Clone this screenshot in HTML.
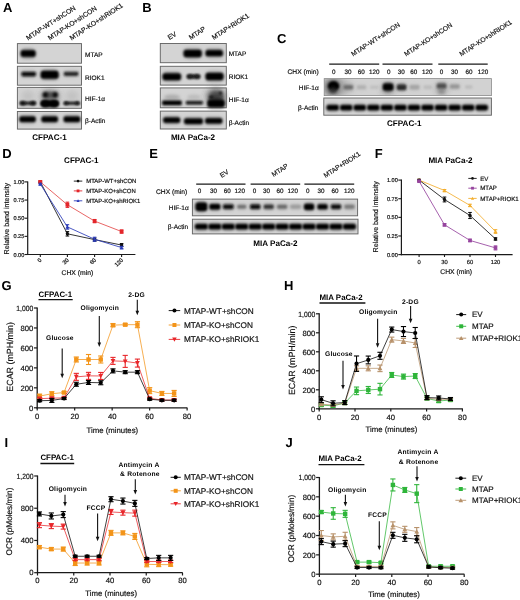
<!DOCTYPE html><html><head><meta charset="utf-8"><title>Figure</title><style>html,body{margin:0;padding:0;background:#fff;}svg{display:block;}text{font-family:'Liberation Sans', Arial, Helvetica, sans-serif;text-rendering:geometricPrecision;}</style></head><body>
<svg width="520" height="600" viewBox="0 0 520 600">
<defs><filter id="b1" x="-50%" y="-100%" width="200%" height="300%"><feGaussianBlur stdDeviation="0.85"/></filter><filter id="b2" x="-50%" y="-100%" width="200%" height="300%"><feGaussianBlur stdDeviation="1.8"/></filter><filter id="b3" x="-50%" y="-100%" width="200%" height="300%"><feGaussianBlur stdDeviation="3"/></filter><filter id="b05" x="-50%" y="-100%" width="200%" height="300%"><feGaussianBlur stdDeviation="0.5"/></filter></defs>
<rect width="520" height="600" fill="#fff"/>
<text x="3.00" y="12.00" font-size="13" text-anchor="start" font-weight="bold" fill="#000">A</text>
<text x="142.30" y="12.00" font-size="13" text-anchor="start" font-weight="bold" fill="#000">B</text>
<text x="277.00" y="42.70" font-size="13" text-anchor="start" font-weight="bold" fill="#000">C</text>
<text x="2.30" y="158.20" font-size="13" text-anchor="start" font-weight="bold" fill="#000">D</text>
<text x="149.20" y="158.40" font-size="13" text-anchor="start" font-weight="bold" fill="#000">E</text>
<text x="374.80" y="158.40" font-size="13" text-anchor="start" font-weight="bold" fill="#000">F</text>
<text x="1.50" y="290.40" font-size="13" text-anchor="start" font-weight="bold" fill="#000">G</text>
<text x="284.00" y="290.40" font-size="13" text-anchor="start" font-weight="bold" fill="#000">H</text>
<text x="4.60" y="447.30" font-size="13" text-anchor="start" font-weight="bold" fill="#000">I</text>
<text x="285.50" y="447.30" font-size="13" text-anchor="start" font-weight="bold" fill="#000">J</text>
<text transform="translate(28.00,40.50) rotate(-33)" font-size="6.8" text-anchor="start" stroke="#111" stroke-width="0.18" fill="#111">MTAP-WT+shCON</text>
<text transform="translate(49.80,40.50) rotate(-33)" font-size="6.8" text-anchor="start" stroke="#111" stroke-width="0.18" fill="#111">MTAP-KO+shCON</text>
<text transform="translate(71.40,40.50) rotate(-33)" font-size="6.8" text-anchor="start" stroke="#111" stroke-width="0.18" fill="#111">MTAP-KO+shRIOK1</text>
<rect x="17.40" y="43.60" width="64.10" height="19.60" fill="#d4d4d4" stroke="#666" stroke-width="0.95"/>
<rect x="17.40" y="66.30" width="64.10" height="18.90" fill="#d4d4d4" stroke="#666" stroke-width="0.95"/>
<rect x="17.40" y="87.40" width="64.10" height="20.90" fill="#d4d4d4" stroke="#666" stroke-width="0.95"/>
<rect x="17.40" y="111.50" width="64.10" height="17.60" fill="#d4d4d4" stroke="#666" stroke-width="0.95"/>
<rect x="19.80" y="48.35" width="16.70" height="10.50" rx="5.25" fill="#555" opacity="0.5" filter="url(#b2)"/>
<rect x="20.80" y="50.35" width="14.70" height="6.50" rx="2.08" fill="#000" opacity="1.0" filter="url(#b1)"/>
<rect x="20.60" y="70.50" width="16.20" height="7.20" rx="3.60" fill="#777" opacity="0.5" filter="url(#b2)"/>
<rect x="21.60" y="72.00" width="14.20" height="4.20" rx="1.34" fill="#111" opacity="1.0" filter="url(#b1)"/>
<rect x="39.90" y="69.60" width="19.50" height="10.40" rx="5.20" fill="#444" opacity="0.6" filter="url(#b2)"/>
<rect x="40.90" y="71.10" width="17.50" height="7.40" rx="2.37" fill="#000" opacity="1.0" filter="url(#b1)"/>
<rect x="63.00" y="70.60" width="16.20" height="6.60" rx="3.30" fill="#888" opacity="0.5" filter="url(#b2)"/>
<rect x="64.00" y="72.10" width="14.20" height="3.60" rx="1.15" fill="#222" opacity="1.0" filter="url(#b1)"/>
<ellipse cx="28.00" cy="96.00" rx="7.00" ry="5.00" fill="#aaa" opacity="0.5" filter="url(#b3)"/>
<ellipse cx="72.00" cy="96.00" rx="7.00" ry="5.00" fill="#aaa" opacity="0.5" filter="url(#b3)"/>
<ellipse cx="50.00" cy="96.50" rx="9.00" ry="6.00" fill="#555" opacity="0.7" filter="url(#b3)"/>
<ellipse cx="50.00" cy="95.00" rx="6.50" ry="3.00" fill="#444" opacity="0.8" filter="url(#b2)"/>
<ellipse cx="45.30" cy="94.80" rx="2.60" ry="2.80" fill="#000" opacity="1.0" filter="url(#b2)"/>
<ellipse cx="55.30" cy="94.80" rx="2.60" ry="2.80" fill="#000" opacity="1.0" filter="url(#b2)"/>
<rect x="19.50" y="100.90" width="16.80" height="4.60" rx="2.30" fill="#777" opacity="0.5" filter="url(#b2)"/>
<rect x="20.50" y="101.90" width="14.80" height="2.60" rx="0.83" fill="#111" opacity="1.0" filter="url(#b1)"/>
<ellipse cx="22.73" cy="103.20" rx="2.94" ry="2.10" fill="#111" opacity="0.9" filter="url(#b1)"/>
<ellipse cx="33.07" cy="103.20" rx="2.94" ry="2.10" fill="#111" opacity="0.9" filter="url(#b1)"/>
<rect x="40.30" y="99.80" width="18.80" height="7.60" rx="3.80" fill="#333" opacity="0.6" filter="url(#b2)"/>
<rect x="41.30" y="100.80" width="16.80" height="5.60" rx="1.79" fill="#000" opacity="1.0" filter="url(#b1)"/>
<ellipse cx="45.35" cy="103.60" rx="4.90" ry="3.50" fill="#000" opacity="0.9" filter="url(#b1)"/>
<ellipse cx="54.05" cy="103.60" rx="4.90" ry="3.50" fill="#000" opacity="0.9" filter="url(#b1)"/>
<rect x="63.30" y="101.10" width="16.80" height="4.40" rx="2.20" fill="#888" opacity="0.5" filter="url(#b2)"/>
<rect x="64.30" y="102.10" width="14.80" height="2.40" rx="0.77" fill="#111" opacity="1.0" filter="url(#b1)"/>
<ellipse cx="66.01" cy="103.30" rx="2.38" ry="1.70" fill="#111" opacity="0.9" filter="url(#b1)"/>
<ellipse cx="77.39" cy="103.30" rx="2.38" ry="1.70" fill="#111" opacity="0.9" filter="url(#b1)"/>
<rect x="18.60" y="115.00" width="17.90" height="8.40" rx="4.20" fill="#555" opacity="0.5" filter="url(#b2)"/>
<rect x="19.60" y="116.50" width="15.90" height="5.40" rx="1.73" fill="#000" opacity="1.0" filter="url(#b1)"/>
<rect x="40.60" y="115.00" width="18.10" height="8.40" rx="4.20" fill="#555" opacity="0.5" filter="url(#b2)"/>
<rect x="41.60" y="116.50" width="16.10" height="5.40" rx="1.73" fill="#000" opacity="1.0" filter="url(#b1)"/>
<rect x="62.80" y="115.00" width="18.20" height="8.40" rx="4.20" fill="#555" opacity="0.5" filter="url(#b2)"/>
<rect x="63.80" y="116.50" width="16.20" height="5.40" rx="1.73" fill="#000" opacity="1.0" filter="url(#b1)"/>
<text x="85.00" y="56.83" font-size="6.5" text-anchor="start" stroke="#111" stroke-width="0.18" fill="#111">MTAP</text>
<text x="85.00" y="79.73" font-size="6.5" text-anchor="start" stroke="#111" stroke-width="0.18" fill="#111">RIOK1</text>
<text x="85.00" y="101.33" font-size="6.5" text-anchor="start" stroke="#111" stroke-width="0.18" fill="#111">HIF-1α</text>
<text x="85.00" y="122.83" font-size="6.5" text-anchor="start" stroke="#111" stroke-width="0.18" fill="#111">β-Actin</text>
<text x="49.50" y="140.10" font-size="8.1" text-anchor="middle" font-weight="bold" fill="#000">CFPAC-1</text>
<text transform="translate(169.50,40.10) rotate(-33)" font-size="6.8" text-anchor="start" stroke="#111" stroke-width="0.18" fill="#111">EV</text>
<text transform="translate(190.70,40.10) rotate(-33)" font-size="6.8" text-anchor="start" stroke="#111" stroke-width="0.18" fill="#111">MTAP</text>
<text transform="translate(213.70,40.10) rotate(-33)" font-size="6.8" text-anchor="start" stroke="#111" stroke-width="0.18" fill="#111">MTAP+RIOK1</text>
<rect x="160.30" y="43.50" width="66.00" height="19.20" fill="#d4d4d4" stroke="#666" stroke-width="0.95"/>
<rect x="160.30" y="66.30" width="66.00" height="18.80" fill="#d4d4d4" stroke="#666" stroke-width="0.95"/>
<rect x="160.30" y="87.90" width="66.00" height="19.90" fill="#d4d4d4" stroke="#666" stroke-width="0.95"/>
<rect x="160.30" y="111.10" width="66.00" height="17.90" fill="#d4d4d4" stroke="#666" stroke-width="0.95"/>
<rect x="182.80" y="48.40" width="19.70" height="10.00" rx="5.00" fill="#444" opacity="0.6" filter="url(#b2)"/>
<rect x="183.80" y="49.90" width="17.70" height="7.00" rx="2.24" fill="#000" opacity="1.0" filter="url(#b1)"/>
<rect x="204.80" y="48.70" width="18.80" height="8.80" rx="4.40" fill="#444" opacity="0.6" filter="url(#b2)"/>
<rect x="205.80" y="50.20" width="16.80" height="5.80" rx="1.86" fill="#000" opacity="1.0" filter="url(#b1)"/>
<rect x="161.80" y="72.00" width="20.00" height="9.60" rx="4.80" fill="#444" opacity="0.6" filter="url(#b2)"/>
<rect x="162.80" y="73.50" width="18.00" height="6.60" rx="2.11" fill="#000" opacity="1.0" filter="url(#b1)"/>
<rect x="186.50" y="74.10" width="14.00" height="5.00" rx="2.50" fill="#666" opacity="0.5" filter="url(#b2)"/>
<rect x="187.50" y="75.10" width="12.00" height="3.00" rx="0.96" fill="#1a1a1a" opacity="1.0" filter="url(#b1)"/>
<ellipse cx="190.12" cy="76.60" rx="3.36" ry="2.40" fill="#1a1a1a" opacity="0.9" filter="url(#b1)"/>
<ellipse cx="196.88" cy="76.60" rx="3.36" ry="2.40" fill="#1a1a1a" opacity="0.9" filter="url(#b1)"/>
<rect x="204.80" y="71.60" width="19.50" height="10.00" rx="5.00" fill="#444" opacity="0.6" filter="url(#b2)"/>
<rect x="205.80" y="73.10" width="17.50" height="7.00" rx="2.24" fill="#000" opacity="1.0" filter="url(#b1)"/>
<ellipse cx="172.00" cy="97.00" rx="8.00" ry="2.50" fill="#888" opacity="0.5" filter="url(#b2)"/>
<ellipse cx="194.00" cy="97.00" rx="7.00" ry="2.50" fill="#999" opacity="0.4" filter="url(#b2)"/>
<ellipse cx="216.00" cy="96.50" rx="9.00" ry="7.50" fill="#3a3a3a" opacity="0.85" filter="url(#b3)"/>
<ellipse cx="216.00" cy="96.50" rx="7.00" ry="4.50" fill="#444" opacity="0.7" filter="url(#b2)"/>
<ellipse cx="211.50" cy="97.50" rx="2.20" ry="1.80" fill="#000" opacity="0.8" filter="url(#b1)"/>
<ellipse cx="220.50" cy="93.00" rx="1.80" ry="1.80" fill="#000" opacity="0.7" filter="url(#b1)"/>
<ellipse cx="216.00" cy="99.50" rx="7.00" ry="2.20" fill="#222" opacity="0.7" filter="url(#b2)"/>
<rect x="161.40" y="99.70" width="21.10" height="6.40" rx="3.20" fill="#555" opacity="0.5" filter="url(#b2)"/>
<rect x="162.40" y="100.70" width="19.10" height="4.40" rx="1.41" fill="#000" opacity="1.0" filter="url(#b1)"/>
<rect x="185.00" y="100.30" width="18.70" height="5.00" rx="2.50" fill="#777" opacity="0.5" filter="url(#b2)"/>
<rect x="186.00" y="101.30" width="16.70" height="3.00" rx="0.96" fill="#111" opacity="1.0" filter="url(#b1)"/>
<rect x="206.60" y="98.60" width="18.90" height="10.00" rx="5.00" fill="#333" opacity="0.6" filter="url(#b2)"/>
<rect x="207.60" y="100.10" width="16.90" height="7.00" rx="2.24" fill="#000" opacity="1.0" filter="url(#b1)"/>
<rect x="162.40" y="115.90" width="18.60" height="8.40" rx="4.20" fill="#555" opacity="0.5" filter="url(#b2)"/>
<rect x="163.40" y="117.40" width="16.60" height="5.40" rx="1.73" fill="#000" opacity="1.0" filter="url(#b1)"/>
<rect x="183.30" y="117.00" width="20.40" height="8.40" rx="4.20" fill="#555" opacity="0.5" filter="url(#b2)"/>
<rect x="184.30" y="118.50" width="18.40" height="5.40" rx="1.73" fill="#000" opacity="1.0" filter="url(#b1)"/>
<rect x="204.30" y="116.70" width="18.90" height="8.40" rx="4.20" fill="#555" opacity="0.5" filter="url(#b2)"/>
<rect x="205.30" y="118.20" width="16.90" height="5.40" rx="1.73" fill="#000" opacity="1.0" filter="url(#b1)"/>
<text x="228.70" y="56.13" font-size="6.5" text-anchor="start" stroke="#111" stroke-width="0.18" fill="#111">MTAP</text>
<text x="228.70" y="78.93" font-size="6.5" text-anchor="start" stroke="#111" stroke-width="0.18" fill="#111">RIOK1</text>
<text x="228.70" y="102.13" font-size="6.5" text-anchor="start" stroke="#111" stroke-width="0.18" fill="#111">HIF-1α</text>
<text x="228.70" y="124.93" font-size="6.5" text-anchor="start" stroke="#111" stroke-width="0.18" fill="#111">β-Actin</text>
<text x="193.00" y="140.10" font-size="8.1" text-anchor="middle" font-weight="bold" fill="#000">MIA PaCa-2</text>
<text transform="translate(353.10,56.60) rotate(-33)" font-size="6.7" text-anchor="start" stroke="#111" stroke-width="0.18" fill="#111">MTAP-WT+shCON</text>
<text transform="translate(406.10,56.60) rotate(-33)" font-size="6.7" text-anchor="start" stroke="#111" stroke-width="0.18" fill="#111">MTAP-KO+shCON</text>
<text transform="translate(461.20,56.60) rotate(-33)" font-size="6.7" text-anchor="start" stroke="#111" stroke-width="0.18" fill="#111">MTAP-KO+shRIOK1</text>
<line x1="329.20" y1="64.20" x2="379.20" y2="64.20" stroke="#1a1a1a" stroke-width="1.3"/>
<line x1="382.50" y1="64.20" x2="432.50" y2="64.20" stroke="#1a1a1a" stroke-width="1.3"/>
<line x1="438.30" y1="64.20" x2="487.70" y2="64.20" stroke="#1a1a1a" stroke-width="1.3"/>
<text x="287.50" y="73.80" font-size="6.7" text-anchor="start" stroke="#111" stroke-width="0.18" fill="#111">CHX (min)</text>
<text x="333.80" y="73.66" font-size="6.3" text-anchor="middle" stroke="#111" stroke-width="0.18" fill="#111">0</text>
<text x="347.90" y="73.66" font-size="6.3" text-anchor="middle" stroke="#111" stroke-width="0.18" fill="#111">30</text>
<text x="361.30" y="73.66" font-size="6.3" text-anchor="middle" stroke="#111" stroke-width="0.18" fill="#111">60</text>
<text x="374.20" y="73.66" font-size="6.3" text-anchor="middle" stroke="#111" stroke-width="0.18" fill="#111">120</text>
<text x="388.70" y="73.66" font-size="6.3" text-anchor="middle" stroke="#111" stroke-width="0.18" fill="#111">0</text>
<text x="401.20" y="73.66" font-size="6.3" text-anchor="middle" stroke="#111" stroke-width="0.18" fill="#111">30</text>
<text x="413.70" y="73.66" font-size="6.3" text-anchor="middle" stroke="#111" stroke-width="0.18" fill="#111">60</text>
<text x="427.30" y="73.66" font-size="6.3" text-anchor="middle" stroke="#111" stroke-width="0.18" fill="#111">120</text>
<text x="441.50" y="73.66" font-size="6.3" text-anchor="middle" stroke="#111" stroke-width="0.18" fill="#111">0</text>
<text x="454.60" y="73.66" font-size="6.3" text-anchor="middle" stroke="#111" stroke-width="0.18" fill="#111">30</text>
<text x="469.00" y="73.66" font-size="6.3" text-anchor="middle" stroke="#111" stroke-width="0.18" fill="#111">60</text>
<text x="483.00" y="73.66" font-size="6.3" text-anchor="middle" stroke="#111" stroke-width="0.18" fill="#111">120</text>
<text x="298.70" y="89.93" font-size="6.5" text-anchor="start" stroke="#111" stroke-width="0.18" fill="#111">HIF-1α</text>
<text x="298.00" y="110.33" font-size="6.5" text-anchor="start" stroke="#111" stroke-width="0.18" fill="#111">β-Actin</text>
<rect x="324.2" y="78.6" width="167.2" height="17.0" fill="#d2d2d2" stroke="#8a8a8a" stroke-width="0.8"/>
<clipPath id="cC"><rect x="324.6" y="79.0" width="166.4" height="16.2"/></clipPath><g clip-path="url(#cC)">
<ellipse cx="338.00" cy="87.00" rx="14.00" ry="9.00" fill="#999" opacity="0.5" filter="url(#b3)"/>
<ellipse cx="332.50" cy="87.00" rx="9.00" ry="9.00" fill="#666" opacity="0.8" filter="url(#b3)"/>
<ellipse cx="333.50" cy="86.00" rx="5.80" ry="5.00" fill="#000" opacity="1.0" filter="url(#b1)"/>
<ellipse cx="333.00" cy="90.50" rx="4.00" ry="3.00" fill="#333" opacity="0.8" filter="url(#b2)"/>
<rect x="342.70" y="83.80" width="11.20" height="7.00" rx="3.50" fill="#999" opacity="0.5" filter="url(#b2)"/>
<rect x="343.70" y="85.30" width="9.20" height="4.00" rx="1.28" fill="#6a6a6a" opacity="1.0" filter="url(#b1)"/>
<rect x="356.00" y="84.05" width="11.00" height="6.50" rx="3.25" fill="#bbb" opacity="0.4" filter="url(#b2)"/>
<rect x="357.00" y="85.55" width="9.00" height="3.50" rx="1.12" fill="#b0b0b0" opacity="1.0" filter="url(#b1)"/>
<rect x="370.00" y="85.55" width="8.50" height="3.50" rx="1.12" fill="#c0c0c0" opacity="1.0" filter="url(#b1)"/>
<ellipse cx="388.00" cy="90.00" rx="6.00" ry="5.00" fill="#777" opacity="0.6" filter="url(#b3)"/>
<rect x="382.00" y="81.90" width="12.20" height="10.00" rx="5.00" fill="#444" opacity="0.6" filter="url(#b2)"/>
<rect x="383.00" y="83.40" width="10.20" height="7.00" rx="2.24" fill="#000" opacity="1.0" filter="url(#b1)"/>
<rect x="396.00" y="83.05" width="11.20" height="8.50" rx="4.25" fill="#666" opacity="0.5" filter="url(#b2)"/>
<rect x="397.00" y="84.55" width="9.20" height="5.50" rx="1.76" fill="#2a2a2a" opacity="1.0" filter="url(#b1)"/>
<rect x="408.60" y="83.55" width="11.80" height="7.50" rx="3.75" fill="#bbb" opacity="0.4" filter="url(#b2)"/>
<rect x="409.60" y="85.05" width="9.80" height="4.50" rx="1.44" fill="#a5a5a5" opacity="1.0" filter="url(#b1)"/>
<rect x="423.50" y="85.30" width="8.50" height="4.00" rx="1.28" fill="#bdbdbd" opacity="1.0" filter="url(#b1)"/>
<ellipse cx="441.50" cy="89.50" rx="5.50" ry="6.00" fill="#888" opacity="0.6" filter="url(#b3)"/>
<rect x="435.90" y="82.10" width="11.40" height="7.80" rx="3.90" fill="#888" opacity="0.5" filter="url(#b2)"/>
<rect x="436.90" y="83.60" width="9.40" height="4.80" rx="1.54" fill="#505050" opacity="1.0" filter="url(#b1)"/>
<ellipse cx="441.50" cy="91.50" rx="3.50" ry="2.50" fill="#777" opacity="0.6" filter="url(#b2)"/>
<rect x="449.00" y="83.00" width="11.40" height="7.00" rx="3.50" fill="#aaa" opacity="0.4" filter="url(#b2)"/>
<rect x="450.00" y="84.50" width="9.40" height="4.00" rx="1.28" fill="#959595" opacity="1.0" filter="url(#b1)"/>
<rect x="465.00" y="85.25" width="7.50" height="3.50" rx="1.12" fill="#bdbdbd" opacity="1.0" filter="url(#b1)"/>
</g>
<rect x="323.80" y="98.00" width="167.60" height="17.20" fill="#d4d4d4" stroke="#666" stroke-width="0.95"/>
<rect x="325.70" y="103.40" width="14.00" height="8.40" rx="4.20" fill="#555" opacity="0.5" filter="url(#b2)"/>
<rect x="326.70" y="104.90" width="12.00" height="5.40" rx="1.73" fill="#000" opacity="1.0" filter="url(#b1)"/>
<rect x="339.25" y="103.40" width="14.00" height="8.40" rx="4.20" fill="#555" opacity="0.5" filter="url(#b2)"/>
<rect x="340.25" y="104.90" width="12.00" height="5.40" rx="1.73" fill="#000" opacity="1.0" filter="url(#b1)"/>
<rect x="352.80" y="103.40" width="14.00" height="8.40" rx="4.20" fill="#555" opacity="0.5" filter="url(#b2)"/>
<rect x="353.80" y="104.90" width="12.00" height="5.40" rx="1.73" fill="#000" opacity="1.0" filter="url(#b1)"/>
<rect x="366.35" y="103.40" width="14.00" height="8.40" rx="4.20" fill="#555" opacity="0.5" filter="url(#b2)"/>
<rect x="367.35" y="104.90" width="12.00" height="5.40" rx="1.73" fill="#000" opacity="1.0" filter="url(#b1)"/>
<rect x="379.90" y="103.40" width="14.00" height="8.40" rx="4.20" fill="#555" opacity="0.5" filter="url(#b2)"/>
<rect x="380.90" y="104.90" width="12.00" height="5.40" rx="1.73" fill="#000" opacity="1.0" filter="url(#b1)"/>
<rect x="393.45" y="103.40" width="14.00" height="8.40" rx="4.20" fill="#555" opacity="0.5" filter="url(#b2)"/>
<rect x="394.45" y="104.90" width="12.00" height="5.40" rx="1.73" fill="#000" opacity="1.0" filter="url(#b1)"/>
<rect x="407.00" y="103.40" width="14.00" height="8.40" rx="4.20" fill="#555" opacity="0.5" filter="url(#b2)"/>
<rect x="408.00" y="104.90" width="12.00" height="5.40" rx="1.73" fill="#000" opacity="1.0" filter="url(#b1)"/>
<rect x="420.55" y="103.40" width="14.00" height="8.40" rx="4.20" fill="#555" opacity="0.5" filter="url(#b2)"/>
<rect x="421.55" y="104.90" width="12.00" height="5.40" rx="1.73" fill="#000" opacity="1.0" filter="url(#b1)"/>
<rect x="434.10" y="103.40" width="14.00" height="8.40" rx="4.20" fill="#555" opacity="0.5" filter="url(#b2)"/>
<rect x="435.10" y="104.90" width="12.00" height="5.40" rx="1.73" fill="#000" opacity="1.0" filter="url(#b1)"/>
<rect x="447.65" y="103.40" width="14.00" height="8.40" rx="4.20" fill="#555" opacity="0.5" filter="url(#b2)"/>
<rect x="448.65" y="104.90" width="12.00" height="5.40" rx="1.73" fill="#000" opacity="1.0" filter="url(#b1)"/>
<rect x="461.20" y="103.40" width="14.00" height="8.40" rx="4.20" fill="#555" opacity="0.5" filter="url(#b2)"/>
<rect x="462.20" y="104.90" width="12.00" height="5.40" rx="1.73" fill="#000" opacity="1.0" filter="url(#b1)"/>
<rect x="474.75" y="103.40" width="14.00" height="8.40" rx="4.20" fill="#555" opacity="0.5" filter="url(#b2)"/>
<rect x="475.75" y="104.90" width="12.00" height="5.40" rx="1.73" fill="#000" opacity="1.0" filter="url(#b1)"/>
<text x="404.20" y="126.40" font-size="8.1" text-anchor="middle" font-weight="bold" fill="#000">CFPAC-1</text>
<text transform="translate(221.70,178.00) rotate(-33)" font-size="6.7" text-anchor="start" stroke="#111" stroke-width="0.18" fill="#111">EV</text>
<text transform="translate(273.60,177.00) rotate(-33)" font-size="6.7" text-anchor="start" stroke="#111" stroke-width="0.18" fill="#111">MTAP</text>
<text transform="translate(325.60,178.00) rotate(-33)" font-size="6.7" text-anchor="start" stroke="#111" stroke-width="0.18" fill="#111">MTAP+RIOK1</text>
<line x1="196.20" y1="184.10" x2="245.50" y2="184.10" stroke="#1a1a1a" stroke-width="1.3"/>
<line x1="250.60" y1="184.10" x2="300.20" y2="184.10" stroke="#1a1a1a" stroke-width="1.3"/>
<line x1="304.40" y1="184.10" x2="354.20" y2="184.10" stroke="#1a1a1a" stroke-width="1.3"/>
<text x="156.00" y="193.60" font-size="6.7" text-anchor="start" stroke="#111" stroke-width="0.18" fill="#111">CHX (min)</text>
<text x="199.50" y="193.46" font-size="6.3" text-anchor="middle" stroke="#111" stroke-width="0.18" fill="#111">0</text>
<text x="213.40" y="193.46" font-size="6.3" text-anchor="middle" stroke="#111" stroke-width="0.18" fill="#111">30</text>
<text x="227.20" y="193.46" font-size="6.3" text-anchor="middle" stroke="#111" stroke-width="0.18" fill="#111">60</text>
<text x="239.70" y="193.46" font-size="6.3" text-anchor="middle" stroke="#111" stroke-width="0.18" fill="#111">120</text>
<text x="254.60" y="193.46" font-size="6.3" text-anchor="middle" stroke="#111" stroke-width="0.18" fill="#111">0</text>
<text x="266.60" y="193.46" font-size="6.3" text-anchor="middle" stroke="#111" stroke-width="0.18" fill="#111">30</text>
<text x="280.00" y="193.46" font-size="6.3" text-anchor="middle" stroke="#111" stroke-width="0.18" fill="#111">60</text>
<text x="292.70" y="193.46" font-size="6.3" text-anchor="middle" stroke="#111" stroke-width="0.18" fill="#111">120</text>
<text x="307.70" y="193.46" font-size="6.3" text-anchor="middle" stroke="#111" stroke-width="0.18" fill="#111">0</text>
<text x="321.00" y="193.46" font-size="6.3" text-anchor="middle" stroke="#111" stroke-width="0.18" fill="#111">30</text>
<text x="335.00" y="193.46" font-size="6.3" text-anchor="middle" stroke="#111" stroke-width="0.18" fill="#111">60</text>
<text x="349.20" y="193.46" font-size="6.3" text-anchor="middle" stroke="#111" stroke-width="0.18" fill="#111">120</text>
<text x="168.70" y="210.03" font-size="6.5" text-anchor="start" stroke="#111" stroke-width="0.18" fill="#111">HIF-1α</text>
<text x="167.80" y="228.63" font-size="6.5" text-anchor="start" stroke="#111" stroke-width="0.18" fill="#111">β-Actin</text>
<rect x="192.40" y="199.10" width="165.20" height="16.70" fill="#d4d4d4" stroke="#666" stroke-width="0.95"/>
<rect x="194.60" y="201.10" width="13.60" height="11.40" rx="5.70" fill="#777" opacity="0.7" filter="url(#b2)"/>
<rect x="195.60" y="202.60" width="11.60" height="8.40" rx="2.69" fill="#000" opacity="1.0" filter="url(#b1)"/>
<rect x="208.46" y="202.60" width="12.80" height="8.40" rx="4.20" fill="#777" opacity="0.6" filter="url(#b2)"/>
<rect x="209.46" y="204.10" width="10.80" height="5.40" rx="1.73" fill="#000" opacity="1.0" filter="url(#b1)"/>
<rect x="222.12" y="203.10" width="12.40" height="7.40" rx="3.70" fill="#777" opacity="0.5" filter="url(#b2)"/>
<rect x="223.12" y="204.60" width="10.40" height="4.40" rx="1.41" fill="#101010" opacity="1.0" filter="url(#b1)"/>
<rect x="236.58" y="203.80" width="10.40" height="6.00" rx="3.00" fill="#777" opacity="0.4" filter="url(#b2)"/>
<rect x="237.58" y="205.30" width="8.40" height="3.00" rx="0.96" fill="#6a6a6a" opacity="1.0" filter="url(#b1)"/>
<rect x="249.24" y="203.00" width="12.00" height="7.60" rx="3.80" fill="#777" opacity="0.5" filter="url(#b2)"/>
<rect x="250.24" y="204.50" width="10.00" height="4.60" rx="1.47" fill="#0a0a0a" opacity="1.0" filter="url(#b1)"/>
<rect x="262.90" y="203.30" width="11.60" height="7.00" rx="3.50" fill="#777" opacity="0.5" filter="url(#b2)"/>
<rect x="263.90" y="204.80" width="9.60" height="4.00" rx="1.28" fill="#303030" opacity="1.0" filter="url(#b1)"/>
<rect x="276.36" y="203.60" width="11.60" height="6.40" rx="3.20" fill="#777" opacity="0.4" filter="url(#b2)"/>
<rect x="277.36" y="205.10" width="9.60" height="3.40" rx="1.09" fill="#686868" opacity="1.0" filter="url(#b1)"/>
<rect x="289.62" y="203.80" width="12.00" height="6.00" rx="3.00" fill="#777" opacity="0.3" filter="url(#b2)"/>
<rect x="290.62" y="205.30" width="10.00" height="3.00" rx="0.96" fill="#9a9a9a" opacity="1.0" filter="url(#b1)"/>
<rect x="303.08" y="202.20" width="12.00" height="9.20" rx="4.60" fill="#777" opacity="0.6" filter="url(#b2)"/>
<rect x="304.08" y="203.70" width="10.00" height="6.20" rx="1.98" fill="#000" opacity="1.0" filter="url(#b1)"/>
<rect x="316.54" y="202.80" width="12.00" height="8.00" rx="4.00" fill="#777" opacity="0.6" filter="url(#b2)"/>
<rect x="317.54" y="204.30" width="10.00" height="5.00" rx="1.60" fill="#000" opacity="1.0" filter="url(#b1)"/>
<rect x="330.00" y="203.10" width="12.00" height="7.40" rx="3.70" fill="#777" opacity="0.5" filter="url(#b2)"/>
<rect x="331.00" y="204.60" width="10.00" height="4.40" rx="1.41" fill="#101010" opacity="1.0" filter="url(#b1)"/>
<rect x="343.66" y="203.60" width="11.60" height="6.40" rx="3.20" fill="#777" opacity="0.4" filter="url(#b2)"/>
<rect x="344.66" y="205.10" width="9.60" height="3.40" rx="1.09" fill="#787878" opacity="1.0" filter="url(#b1)"/>
<rect x="192.40" y="219.20" width="165.60" height="14.70" fill="#d4d4d4" stroke="#666" stroke-width="0.95"/>
<rect x="194.10" y="222.40" width="14.60" height="8.40" rx="4.20" fill="#555" opacity="0.5" filter="url(#b2)"/>
<rect x="195.10" y="223.90" width="12.60" height="5.40" rx="1.73" fill="#000" opacity="1.0" filter="url(#b1)"/>
<rect x="207.56" y="222.40" width="14.60" height="8.40" rx="4.20" fill="#555" opacity="0.5" filter="url(#b2)"/>
<rect x="208.56" y="223.90" width="12.60" height="5.40" rx="1.73" fill="#000" opacity="1.0" filter="url(#b1)"/>
<rect x="221.02" y="222.40" width="14.60" height="8.40" rx="4.20" fill="#555" opacity="0.5" filter="url(#b2)"/>
<rect x="222.02" y="223.90" width="12.60" height="5.40" rx="1.73" fill="#000" opacity="1.0" filter="url(#b1)"/>
<rect x="234.48" y="222.40" width="14.60" height="8.40" rx="4.20" fill="#555" opacity="0.5" filter="url(#b2)"/>
<rect x="235.48" y="223.90" width="12.60" height="5.40" rx="1.73" fill="#000" opacity="1.0" filter="url(#b1)"/>
<rect x="247.94" y="222.40" width="14.60" height="8.40" rx="4.20" fill="#555" opacity="0.5" filter="url(#b2)"/>
<rect x="248.94" y="223.90" width="12.60" height="5.40" rx="1.73" fill="#000" opacity="1.0" filter="url(#b1)"/>
<rect x="261.40" y="222.40" width="14.60" height="8.40" rx="4.20" fill="#555" opacity="0.5" filter="url(#b2)"/>
<rect x="262.40" y="223.90" width="12.60" height="5.40" rx="1.73" fill="#000" opacity="1.0" filter="url(#b1)"/>
<rect x="274.86" y="222.40" width="14.60" height="8.40" rx="4.20" fill="#555" opacity="0.5" filter="url(#b2)"/>
<rect x="275.86" y="223.90" width="12.60" height="5.40" rx="1.73" fill="#000" opacity="1.0" filter="url(#b1)"/>
<rect x="288.32" y="222.40" width="14.60" height="8.40" rx="4.20" fill="#555" opacity="0.5" filter="url(#b2)"/>
<rect x="289.32" y="223.90" width="12.60" height="5.40" rx="1.73" fill="#000" opacity="1.0" filter="url(#b1)"/>
<rect x="301.78" y="222.40" width="14.60" height="8.40" rx="4.20" fill="#555" opacity="0.5" filter="url(#b2)"/>
<rect x="302.78" y="223.90" width="12.60" height="5.40" rx="1.73" fill="#000" opacity="1.0" filter="url(#b1)"/>
<rect x="315.24" y="222.40" width="14.60" height="8.40" rx="4.20" fill="#555" opacity="0.5" filter="url(#b2)"/>
<rect x="316.24" y="223.90" width="12.60" height="5.40" rx="1.73" fill="#000" opacity="1.0" filter="url(#b1)"/>
<rect x="328.70" y="222.40" width="14.60" height="8.40" rx="4.20" fill="#555" opacity="0.5" filter="url(#b2)"/>
<rect x="329.70" y="223.90" width="12.60" height="5.40" rx="1.73" fill="#000" opacity="1.0" filter="url(#b1)"/>
<rect x="342.16" y="222.40" width="14.60" height="8.40" rx="4.20" fill="#555" opacity="0.5" filter="url(#b2)"/>
<rect x="343.16" y="223.90" width="12.60" height="5.40" rx="1.73" fill="#000" opacity="1.0" filter="url(#b1)"/>
<text x="275.40" y="246.10" font-size="8.1" text-anchor="middle" font-weight="bold" fill="#000">MIA PaCa-2</text>
<line x1="27.70" y1="181.40" x2="27.70" y2="255.10" stroke="#1a1a1a" stroke-width="1.2"/>
<line x1="27.10" y1="254.50" x2="135.40" y2="254.50" stroke="#1a1a1a" stroke-width="1.2"/>
<line x1="24.60" y1="254.50" x2="27.70" y2="254.50" stroke="#1a1a1a" stroke-width="1.1"/>
<text x="24.30" y="256.50" font-size="5.6" text-anchor="end" stroke="#111" stroke-width="0.18" fill="#111">0.00</text>
<line x1="24.60" y1="236.35" x2="27.70" y2="236.35" stroke="#1a1a1a" stroke-width="1.1"/>
<text x="24.30" y="238.35" font-size="5.6" text-anchor="end" stroke="#111" stroke-width="0.18" fill="#111">0.25</text>
<line x1="24.60" y1="218.20" x2="27.70" y2="218.20" stroke="#1a1a1a" stroke-width="1.1"/>
<text x="24.30" y="220.20" font-size="5.6" text-anchor="end" stroke="#111" stroke-width="0.18" fill="#111">0.50</text>
<line x1="24.60" y1="200.05" x2="27.70" y2="200.05" stroke="#1a1a1a" stroke-width="1.1"/>
<text x="24.30" y="202.05" font-size="5.6" text-anchor="end" stroke="#111" stroke-width="0.18" fill="#111">0.75</text>
<line x1="24.60" y1="181.90" x2="27.70" y2="181.90" stroke="#1a1a1a" stroke-width="1.1"/>
<text x="24.30" y="183.90" font-size="5.6" text-anchor="end" stroke="#111" stroke-width="0.18" fill="#111">1.00</text>
<line x1="40.30" y1="254.50" x2="40.30" y2="257.10" stroke="#1a1a1a" stroke-width="1.1"/>
<text transform="translate(42.10,260.40) rotate(-45)" font-size="5.7" text-anchor="end" stroke="#111" stroke-width="0.18" fill="#111">0</text>
<line x1="67.40" y1="254.50" x2="67.40" y2="257.10" stroke="#1a1a1a" stroke-width="1.1"/>
<text transform="translate(69.20,260.40) rotate(-45)" font-size="5.7" text-anchor="end" stroke="#111" stroke-width="0.18" fill="#111">30</text>
<line x1="94.60" y1="254.50" x2="94.60" y2="257.10" stroke="#1a1a1a" stroke-width="1.1"/>
<text transform="translate(96.40,260.40) rotate(-45)" font-size="5.7" text-anchor="end" stroke="#111" stroke-width="0.18" fill="#111">60</text>
<line x1="121.60" y1="254.50" x2="121.60" y2="257.10" stroke="#1a1a1a" stroke-width="1.1"/>
<text transform="translate(123.40,260.40) rotate(-45)" font-size="5.7" text-anchor="end" stroke="#111" stroke-width="0.18" fill="#111">120</text>
<text transform="translate(8.70,218.70) rotate(-90)" font-size="7.1" text-anchor="middle" stroke="#111" stroke-width="0.18" fill="#111">Relative band intensity</text>
<text x="77.40" y="274.73" font-size="6.8" text-anchor="middle" stroke="#111" stroke-width="0.18" fill="#111">CHX (min)</text>
<text x="81.30" y="162.50" font-size="8.1" text-anchor="middle" font-weight="bold" fill="#000">CFPAC-1</text>
<polyline points="40.30,181.90 67.40,233.81 94.60,239.62 121.60,245.06" fill="none" stroke="#111" stroke-width="0.85"/>
<line x1="40.30" y1="181.10" x2="40.30" y2="182.70" stroke="#111" stroke-width="1.1"/>
<line x1="38.50" y1="181.10" x2="42.10" y2="181.10" stroke="#111" stroke-width="1.1"/>
<line x1="38.50" y1="182.70" x2="42.10" y2="182.70" stroke="#111" stroke-width="1.1"/>
<line x1="67.40" y1="231.61" x2="67.40" y2="236.01" stroke="#111" stroke-width="1.1"/>
<line x1="65.60" y1="231.61" x2="69.20" y2="231.61" stroke="#111" stroke-width="1.1"/>
<line x1="65.60" y1="236.01" x2="69.20" y2="236.01" stroke="#111" stroke-width="1.1"/>
<line x1="94.60" y1="238.12" x2="94.60" y2="241.12" stroke="#111" stroke-width="1.1"/>
<line x1="92.80" y1="238.12" x2="96.40" y2="238.12" stroke="#111" stroke-width="1.1"/>
<line x1="92.80" y1="241.12" x2="96.40" y2="241.12" stroke="#111" stroke-width="1.1"/>
<line x1="121.60" y1="243.56" x2="121.60" y2="246.56" stroke="#111" stroke-width="1.1"/>
<line x1="119.80" y1="243.56" x2="123.40" y2="243.56" stroke="#111" stroke-width="1.1"/>
<line x1="119.80" y1="246.56" x2="123.40" y2="246.56" stroke="#111" stroke-width="1.1"/>
<circle cx="40.30" cy="181.90" r="1.70" fill="#111"/>
<circle cx="67.40" cy="233.81" r="1.70" fill="#111"/>
<circle cx="94.60" cy="239.62" r="1.70" fill="#111"/>
<circle cx="121.60" cy="245.06" r="1.70" fill="#111"/>
<polyline points="40.30,181.90 67.40,204.77 94.60,221.10 121.60,231.56" fill="none" stroke="#e44a4a" stroke-width="0.85"/>
<line x1="40.30" y1="181.10" x2="40.30" y2="182.70" stroke="#e3262b" stroke-width="1.1"/>
<line x1="38.50" y1="181.10" x2="42.10" y2="181.10" stroke="#e3262b" stroke-width="1.1"/>
<line x1="38.50" y1="182.70" x2="42.10" y2="182.70" stroke="#e3262b" stroke-width="1.1"/>
<line x1="67.40" y1="202.17" x2="67.40" y2="207.37" stroke="#e3262b" stroke-width="1.1"/>
<line x1="65.60" y1="202.17" x2="69.20" y2="202.17" stroke="#e3262b" stroke-width="1.1"/>
<line x1="65.60" y1="207.37" x2="69.20" y2="207.37" stroke="#e3262b" stroke-width="1.1"/>
<line x1="94.60" y1="219.50" x2="94.60" y2="222.70" stroke="#e3262b" stroke-width="1.1"/>
<line x1="92.80" y1="219.50" x2="96.40" y2="219.50" stroke="#e3262b" stroke-width="1.1"/>
<line x1="92.80" y1="222.70" x2="96.40" y2="222.70" stroke="#e3262b" stroke-width="1.1"/>
<line x1="121.60" y1="229.96" x2="121.60" y2="233.16" stroke="#e3262b" stroke-width="1.1"/>
<line x1="119.80" y1="229.96" x2="123.40" y2="229.96" stroke="#e3262b" stroke-width="1.1"/>
<line x1="119.80" y1="233.16" x2="123.40" y2="233.16" stroke="#e3262b" stroke-width="1.1"/>
<rect x="38.40" y="180.00" width="3.80" height="3.80" fill="#e3262b"/>
<rect x="65.50" y="202.87" width="3.80" height="3.80" fill="#e3262b"/>
<rect x="92.70" y="219.20" width="3.80" height="3.80" fill="#e3262b"/>
<rect x="119.70" y="229.66" width="3.80" height="3.80" fill="#e3262b"/>
<polyline points="40.30,184.08 67.40,226.91 94.60,239.25 121.60,247.60" fill="none" stroke="#2b3bb8" stroke-width="0.85"/>
<line x1="40.30" y1="183.28" x2="40.30" y2="184.88" stroke="#2b3bb8" stroke-width="1.1"/>
<line x1="38.50" y1="183.28" x2="42.10" y2="183.28" stroke="#2b3bb8" stroke-width="1.1"/>
<line x1="38.50" y1="184.88" x2="42.10" y2="184.88" stroke="#2b3bb8" stroke-width="1.1"/>
<line x1="67.40" y1="224.71" x2="67.40" y2="229.11" stroke="#2b3bb8" stroke-width="1.1"/>
<line x1="65.60" y1="224.71" x2="69.20" y2="224.71" stroke="#2b3bb8" stroke-width="1.1"/>
<line x1="65.60" y1="229.11" x2="69.20" y2="229.11" stroke="#2b3bb8" stroke-width="1.1"/>
<line x1="94.60" y1="237.25" x2="94.60" y2="241.25" stroke="#2b3bb8" stroke-width="1.1"/>
<line x1="92.80" y1="237.25" x2="96.40" y2="237.25" stroke="#2b3bb8" stroke-width="1.1"/>
<line x1="92.80" y1="241.25" x2="96.40" y2="241.25" stroke="#2b3bb8" stroke-width="1.1"/>
<line x1="121.60" y1="246.40" x2="121.60" y2="248.80" stroke="#2b3bb8" stroke-width="1.1"/>
<line x1="119.80" y1="246.40" x2="123.40" y2="246.40" stroke="#2b3bb8" stroke-width="1.1"/>
<line x1="119.80" y1="248.80" x2="123.40" y2="248.80" stroke="#2b3bb8" stroke-width="1.1"/>
<polygon points="38.38,185.68 42.22,185.68 40.30,182.16" fill="#2b3bb8"/>
<polygon points="65.48,228.51 69.32,228.51 67.40,224.99" fill="#2b3bb8"/>
<polygon points="92.68,240.85 96.52,240.85 94.60,237.33" fill="#2b3bb8"/>
<polygon points="119.68,249.20 123.52,249.20 121.60,245.68" fill="#2b3bb8"/>
<line x1="73.80" y1="181.10" x2="82.30" y2="181.10" stroke="#111" stroke-width="0.9"/>
<circle cx="78.05" cy="181.10" r="1.30" fill="#111"/>
<text x="86.20" y="183.23" font-size="5.95" text-anchor="start" stroke="#111" stroke-width="0.18" fill="#111">MTAP-WT+shCON</text>
<line x1="73.80" y1="190.90" x2="82.30" y2="190.90" stroke="#e3262b" stroke-width="0.9"/>
<rect x="76.65" y="189.50" width="2.80" height="2.80" fill="#e3262b"/>
<text x="86.20" y="193.03" font-size="5.95" text-anchor="start" stroke="#111" stroke-width="0.18" fill="#111">MTAP-KO+shCON</text>
<line x1="73.80" y1="200.80" x2="82.30" y2="200.80" stroke="#2b3bb8" stroke-width="0.9"/>
<polygon points="76.49,202.10 79.61,202.10 78.05,199.24" fill="#2b3bb8"/>
<text x="86.20" y="202.93" font-size="5.95" text-anchor="start" stroke="#111" stroke-width="0.18" fill="#111">MTAP-KO+shRIOK1</text>
<line x1="401.40" y1="179.60" x2="401.40" y2="255.20" stroke="#1a1a1a" stroke-width="1.2"/>
<line x1="400.80" y1="254.60" x2="512.60" y2="254.60" stroke="#1a1a1a" stroke-width="1.2"/>
<line x1="398.30" y1="254.60" x2="401.40" y2="254.60" stroke="#1a1a1a" stroke-width="1.1"/>
<text x="397.80" y="256.60" font-size="5.6" text-anchor="end" stroke="#111" stroke-width="0.18" fill="#111">0.00</text>
<line x1="398.30" y1="235.97" x2="401.40" y2="235.97" stroke="#1a1a1a" stroke-width="1.1"/>
<text x="397.80" y="237.98" font-size="5.6" text-anchor="end" stroke="#111" stroke-width="0.18" fill="#111">0.25</text>
<line x1="398.30" y1="217.35" x2="401.40" y2="217.35" stroke="#1a1a1a" stroke-width="1.1"/>
<text x="397.80" y="219.35" font-size="5.6" text-anchor="end" stroke="#111" stroke-width="0.18" fill="#111">0.50</text>
<line x1="398.30" y1="198.72" x2="401.40" y2="198.72" stroke="#1a1a1a" stroke-width="1.1"/>
<text x="397.80" y="200.73" font-size="5.6" text-anchor="end" stroke="#111" stroke-width="0.18" fill="#111">0.75</text>
<line x1="398.30" y1="180.10" x2="401.40" y2="180.10" stroke="#1a1a1a" stroke-width="1.1"/>
<text x="397.80" y="182.10" font-size="5.6" text-anchor="end" stroke="#111" stroke-width="0.18" fill="#111">1.00</text>
<line x1="419.10" y1="254.60" x2="419.10" y2="257.00" stroke="#1a1a1a" stroke-width="1.1"/>
<text x="419.10" y="264.48" font-size="5.8" text-anchor="middle" stroke="#111" stroke-width="0.18" fill="#111">0</text>
<line x1="444.50" y1="254.60" x2="444.50" y2="257.00" stroke="#1a1a1a" stroke-width="1.1"/>
<text x="444.50" y="264.48" font-size="5.8" text-anchor="middle" stroke="#111" stroke-width="0.18" fill="#111">30</text>
<line x1="470.00" y1="254.60" x2="470.00" y2="257.00" stroke="#1a1a1a" stroke-width="1.1"/>
<text x="470.00" y="264.48" font-size="5.8" text-anchor="middle" stroke="#111" stroke-width="0.18" fill="#111">60</text>
<line x1="495.50" y1="254.60" x2="495.50" y2="257.00" stroke="#1a1a1a" stroke-width="1.1"/>
<text x="495.50" y="264.48" font-size="5.8" text-anchor="middle" stroke="#111" stroke-width="0.18" fill="#111">120</text>
<text transform="translate(378.00,216.80) rotate(-90)" font-size="7.1" text-anchor="middle" stroke="#111" stroke-width="0.18" fill="#111">Relative band intensity</text>
<text x="456.10" y="273.93" font-size="6.8" text-anchor="middle" stroke="#111" stroke-width="0.18" fill="#111">CHX (min)</text>
<text x="450.50" y="163.00" font-size="8.1" text-anchor="middle" font-weight="bold" fill="#000">MIA PaCa-2</text>
<polyline points="419.10,180.10 444.50,190.53 470.00,205.43 495.50,231.50" fill="none" stroke="#f3ae2e" stroke-width="0.85"/>
<line x1="419.10" y1="179.30" x2="419.10" y2="180.90" stroke="#f3ae2e" stroke-width="1.1"/>
<line x1="417.30" y1="179.30" x2="420.90" y2="179.30" stroke="#f3ae2e" stroke-width="1.1"/>
<line x1="417.30" y1="180.90" x2="420.90" y2="180.90" stroke="#f3ae2e" stroke-width="1.1"/>
<line x1="444.50" y1="189.53" x2="444.50" y2="191.53" stroke="#f3ae2e" stroke-width="1.1"/>
<line x1="442.70" y1="189.53" x2="446.30" y2="189.53" stroke="#f3ae2e" stroke-width="1.1"/>
<line x1="442.70" y1="191.53" x2="446.30" y2="191.53" stroke="#f3ae2e" stroke-width="1.1"/>
<line x1="470.00" y1="204.23" x2="470.00" y2="206.63" stroke="#f3ae2e" stroke-width="1.1"/>
<line x1="468.20" y1="204.23" x2="471.80" y2="204.23" stroke="#f3ae2e" stroke-width="1.1"/>
<line x1="468.20" y1="206.63" x2="471.80" y2="206.63" stroke="#f3ae2e" stroke-width="1.1"/>
<line x1="495.50" y1="229.70" x2="495.50" y2="233.31" stroke="#f3ae2e" stroke-width="1.1"/>
<line x1="493.70" y1="229.70" x2="497.30" y2="229.70" stroke="#f3ae2e" stroke-width="1.1"/>
<line x1="493.70" y1="233.31" x2="497.30" y2="233.31" stroke="#f3ae2e" stroke-width="1.1"/>
<polygon points="417.18,181.70 421.02,181.70 419.10,178.18" fill="#f3ae2e"/>
<polygon points="442.58,192.13 446.42,192.13 444.50,188.61" fill="#f3ae2e"/>
<polygon points="468.08,207.03 471.92,207.03 470.00,203.51" fill="#f3ae2e"/>
<polygon points="493.58,233.10 497.42,233.10 495.50,229.59" fill="#f3ae2e"/>
<polyline points="419.10,180.10 444.50,199.47 470.00,215.49 495.50,238.95" fill="none" stroke="#111" stroke-width="0.85"/>
<line x1="419.10" y1="179.30" x2="419.10" y2="180.90" stroke="#111" stroke-width="1.1"/>
<line x1="417.30" y1="179.30" x2="420.90" y2="179.30" stroke="#111" stroke-width="1.1"/>
<line x1="417.30" y1="180.90" x2="420.90" y2="180.90" stroke="#111" stroke-width="1.1"/>
<line x1="444.50" y1="197.07" x2="444.50" y2="201.87" stroke="#111" stroke-width="1.1"/>
<line x1="442.70" y1="197.07" x2="446.30" y2="197.07" stroke="#111" stroke-width="1.1"/>
<line x1="442.70" y1="201.87" x2="446.30" y2="201.87" stroke="#111" stroke-width="1.1"/>
<line x1="470.00" y1="212.49" x2="470.00" y2="218.49" stroke="#111" stroke-width="1.1"/>
<line x1="468.20" y1="212.49" x2="471.80" y2="212.49" stroke="#111" stroke-width="1.1"/>
<line x1="468.20" y1="218.49" x2="471.80" y2="218.49" stroke="#111" stroke-width="1.1"/>
<line x1="495.50" y1="237.75" x2="495.50" y2="240.15" stroke="#111" stroke-width="1.1"/>
<line x1="493.70" y1="237.75" x2="497.30" y2="237.75" stroke="#111" stroke-width="1.1"/>
<line x1="493.70" y1="240.15" x2="497.30" y2="240.15" stroke="#111" stroke-width="1.1"/>
<circle cx="419.10" cy="180.10" r="1.70" fill="#111"/>
<circle cx="444.50" cy="199.47" r="1.70" fill="#111"/>
<circle cx="470.00" cy="215.49" r="1.70" fill="#111"/>
<circle cx="495.50" cy="238.95" r="1.70" fill="#111"/>
<polyline points="419.10,181.22 444.50,224.80 470.00,240.44 495.50,247.89" fill="none" stroke="#96449e" stroke-width="0.85"/>
<line x1="419.10" y1="180.42" x2="419.10" y2="182.02" stroke="#96449e" stroke-width="1.1"/>
<line x1="417.30" y1="180.42" x2="420.90" y2="180.42" stroke="#96449e" stroke-width="1.1"/>
<line x1="417.30" y1="182.02" x2="420.90" y2="182.02" stroke="#96449e" stroke-width="1.1"/>
<line x1="444.50" y1="223.60" x2="444.50" y2="226.00" stroke="#96449e" stroke-width="1.1"/>
<line x1="442.70" y1="223.60" x2="446.30" y2="223.60" stroke="#96449e" stroke-width="1.1"/>
<line x1="442.70" y1="226.00" x2="446.30" y2="226.00" stroke="#96449e" stroke-width="1.1"/>
<line x1="470.00" y1="239.25" x2="470.00" y2="241.64" stroke="#96449e" stroke-width="1.1"/>
<line x1="468.20" y1="239.25" x2="471.80" y2="239.25" stroke="#96449e" stroke-width="1.1"/>
<line x1="468.20" y1="241.64" x2="471.80" y2="241.64" stroke="#96449e" stroke-width="1.1"/>
<line x1="495.50" y1="245.89" x2="495.50" y2="249.89" stroke="#96449e" stroke-width="1.1"/>
<line x1="493.70" y1="245.89" x2="497.30" y2="245.89" stroke="#96449e" stroke-width="1.1"/>
<line x1="493.70" y1="249.89" x2="497.30" y2="249.89" stroke="#96449e" stroke-width="1.1"/>
<rect x="417.30" y="179.42" width="3.60" height="3.60" fill="#96449e"/>
<rect x="442.70" y="223.00" width="3.60" height="3.60" fill="#96449e"/>
<rect x="468.20" y="238.64" width="3.60" height="3.60" fill="#96449e"/>
<rect x="493.70" y="246.09" width="3.60" height="3.60" fill="#96449e"/>
<line x1="468.30" y1="178.40" x2="476.70" y2="178.40" stroke="#111" stroke-width="0.9"/>
<circle cx="472.50" cy="178.40" r="1.30" fill="#111"/>
<text x="480.30" y="180.58" font-size="6.1" text-anchor="start" stroke="#111" stroke-width="0.18" fill="#111">EV</text>
<line x1="468.30" y1="188.20" x2="476.70" y2="188.20" stroke="#96449e" stroke-width="0.9"/>
<rect x="471.10" y="186.80" width="2.80" height="2.80" fill="#96449e"/>
<text x="480.30" y="190.38" font-size="6.1" text-anchor="start" stroke="#111" stroke-width="0.18" fill="#111">MTAP</text>
<line x1="468.30" y1="198.40" x2="476.70" y2="198.40" stroke="#f3ae2e" stroke-width="0.9"/>
<polygon points="470.94,199.70 474.06,199.70 472.50,196.84" fill="#f3ae2e"/>
<text x="480.30" y="200.58" font-size="6.1" text-anchor="start" stroke="#111" stroke-width="0.18" fill="#111">MTAP+RIOK1</text>
<line x1="37.20" y1="307.50" x2="37.20" y2="408.40" stroke="#1a1a1a" stroke-width="1.3"/>
<line x1="36.60" y1="407.80" x2="187.30" y2="407.80" stroke="#1a1a1a" stroke-width="1.3"/>
<line x1="33.90" y1="407.80" x2="37.20" y2="407.80" stroke="#1a1a1a" stroke-width="1.2"/>
<text x="33.30" y="410.56" font-size="7.7" text-anchor="end" stroke="#111" stroke-width="0.18" fill="#111">0</text>
<line x1="33.90" y1="387.84" x2="37.20" y2="387.84" stroke="#1a1a1a" stroke-width="1.2"/>
<text x="33.30" y="390.60" font-size="7.7" text-anchor="end" stroke="#111" stroke-width="0.18" fill="#111">200</text>
<line x1="33.90" y1="367.88" x2="37.20" y2="367.88" stroke="#1a1a1a" stroke-width="1.2"/>
<text x="33.30" y="370.64" font-size="7.7" text-anchor="end" stroke="#111" stroke-width="0.18" fill="#111">400</text>
<line x1="33.90" y1="347.92" x2="37.20" y2="347.92" stroke="#1a1a1a" stroke-width="1.2"/>
<text x="33.30" y="350.68" font-size="7.7" text-anchor="end" stroke="#111" stroke-width="0.18" fill="#111">600</text>
<line x1="33.90" y1="327.96" x2="37.20" y2="327.96" stroke="#1a1a1a" stroke-width="1.2"/>
<text x="33.30" y="330.72" font-size="7.7" text-anchor="end" stroke="#111" stroke-width="0.18" fill="#111">800</text>
<line x1="33.90" y1="308.00" x2="37.20" y2="308.00" stroke="#1a1a1a" stroke-width="1.2"/>
<text x="33.30" y="310.76" font-size="7.7" text-anchor="end" stroke="#111" stroke-width="0.18" textLength="17.0" lengthAdjust="spacingAndGlyphs" fill="#111">1,000</text>
<line x1="37.20" y1="407.80" x2="37.20" y2="410.60" stroke="#1a1a1a" stroke-width="1.2"/>
<text x="37.20" y="419.16" font-size="7.7" text-anchor="middle" stroke="#111" stroke-width="0.18" fill="#111">0</text>
<line x1="74.68" y1="407.80" x2="74.68" y2="410.60" stroke="#1a1a1a" stroke-width="1.2"/>
<text x="74.68" y="419.16" font-size="7.7" text-anchor="middle" stroke="#111" stroke-width="0.18" fill="#111">20</text>
<line x1="112.16" y1="407.80" x2="112.16" y2="410.60" stroke="#1a1a1a" stroke-width="1.2"/>
<text x="112.16" y="419.16" font-size="7.7" text-anchor="middle" stroke="#111" stroke-width="0.18" fill="#111">40</text>
<line x1="149.64" y1="407.80" x2="149.64" y2="410.60" stroke="#1a1a1a" stroke-width="1.2"/>
<text x="149.64" y="419.16" font-size="7.7" text-anchor="middle" stroke="#111" stroke-width="0.18" fill="#111">60</text>
<line x1="187.12" y1="407.80" x2="187.12" y2="410.60" stroke="#1a1a1a" stroke-width="1.2"/>
<text x="187.12" y="419.16" font-size="7.7" text-anchor="middle" stroke="#111" stroke-width="0.18" fill="#111">80</text>
<text transform="translate(13.00,356.90) rotate(-90)" font-size="8.9" text-anchor="middle" stroke="#111" stroke-width="0.18" fill="#111">ECAR (mPH/min)</text>
<text x="112.30" y="433.39" font-size="7.8" text-anchor="middle" stroke="#111" stroke-width="0.18" fill="#111">Time (minutes)</text>
<text x="38.50" y="297.13" font-size="7.9" text-anchor="start" font-weight="bold" fill="#000">CFPAC-1</text>
<line x1="38.50" y1="299.60" x2="72.70" y2="299.60" stroke="#111" stroke-width="1.3"/>
<text x="46.00" y="340.00" font-size="6.7" text-anchor="start" font-weight="bold" letter-spacing="0.2" fill="#000">Glucose</text>
<line x1="62.20" y1="348.60" x2="62.20" y2="374.20" stroke="#111" stroke-width="1.1"/>
<polygon points="60.40,373.70 64.00,373.70 62.20,378.20" fill="#111"/>
<text x="80.50" y="310.40" font-size="6.7" text-anchor="start" font-weight="bold" letter-spacing="0.2" fill="#000">Oligomycin</text>
<line x1="99.30" y1="316.00" x2="99.30" y2="343.00" stroke="#111" stroke-width="1.1"/>
<polygon points="97.50,342.50 101.10,342.50 99.30,347.00" fill="#111"/>
<text x="128.20" y="296.70" font-size="6.7" text-anchor="start" font-weight="bold" letter-spacing="0.2" fill="#000">2-DG</text>
<line x1="137.30" y1="299.80" x2="137.30" y2="311.20" stroke="#111" stroke-width="1.1"/>
<polygon points="135.50,310.70 139.10,310.70 137.30,315.20" fill="#111"/>
<polyline points="39.60,396.12 51.83,393.73 64.06,392.53 76.29,359.50 88.52,359.50 100.75,359.50 112.98,325.17 125.21,324.67 137.44,324.67 149.67,390.63 161.90,393.43 174.13,393.43" fill="none" stroke="#f39419" stroke-width="0.75"/>
<line x1="39.60" y1="394.12" x2="39.60" y2="398.12" stroke="#f39419" stroke-width="1.1"/>
<line x1="37.00" y1="394.12" x2="42.20" y2="394.12" stroke="#f39419" stroke-width="1.1"/>
<line x1="37.00" y1="398.12" x2="42.20" y2="398.12" stroke="#f39419" stroke-width="1.1"/>
<line x1="51.83" y1="391.73" x2="51.83" y2="395.73" stroke="#f39419" stroke-width="1.1"/>
<line x1="49.23" y1="391.73" x2="54.43" y2="391.73" stroke="#f39419" stroke-width="1.1"/>
<line x1="49.23" y1="395.73" x2="54.43" y2="395.73" stroke="#f39419" stroke-width="1.1"/>
<line x1="64.06" y1="391.53" x2="64.06" y2="393.53" stroke="#f39419" stroke-width="1.1"/>
<line x1="61.46" y1="391.53" x2="66.66" y2="391.53" stroke="#f39419" stroke-width="1.1"/>
<line x1="61.46" y1="393.53" x2="66.66" y2="393.53" stroke="#f39419" stroke-width="1.1"/>
<line x1="76.29" y1="357.00" x2="76.29" y2="362.00" stroke="#f39419" stroke-width="1.1"/>
<line x1="73.69" y1="357.00" x2="78.89" y2="357.00" stroke="#f39419" stroke-width="1.1"/>
<line x1="73.69" y1="362.00" x2="78.89" y2="362.00" stroke="#f39419" stroke-width="1.1"/>
<line x1="88.52" y1="354.50" x2="88.52" y2="364.50" stroke="#f39419" stroke-width="1.1"/>
<line x1="85.92" y1="354.50" x2="91.12" y2="354.50" stroke="#f39419" stroke-width="1.1"/>
<line x1="85.92" y1="364.50" x2="91.12" y2="364.50" stroke="#f39419" stroke-width="1.1"/>
<line x1="100.75" y1="356.00" x2="100.75" y2="363.00" stroke="#f39419" stroke-width="1.1"/>
<line x1="98.15" y1="356.00" x2="103.35" y2="356.00" stroke="#f39419" stroke-width="1.1"/>
<line x1="98.15" y1="363.00" x2="103.35" y2="363.00" stroke="#f39419" stroke-width="1.1"/>
<line x1="112.98" y1="323.67" x2="112.98" y2="326.67" stroke="#f39419" stroke-width="1.1"/>
<line x1="110.38" y1="323.67" x2="115.58" y2="323.67" stroke="#f39419" stroke-width="1.1"/>
<line x1="110.38" y1="326.67" x2="115.58" y2="326.67" stroke="#f39419" stroke-width="1.1"/>
<line x1="125.21" y1="323.67" x2="125.21" y2="325.67" stroke="#f39419" stroke-width="1.1"/>
<line x1="122.61" y1="323.67" x2="127.81" y2="323.67" stroke="#f39419" stroke-width="1.1"/>
<line x1="122.61" y1="325.67" x2="127.81" y2="325.67" stroke="#f39419" stroke-width="1.1"/>
<line x1="137.44" y1="321.67" x2="137.44" y2="327.67" stroke="#f39419" stroke-width="1.1"/>
<line x1="134.84" y1="321.67" x2="140.04" y2="321.67" stroke="#f39419" stroke-width="1.1"/>
<line x1="134.84" y1="327.67" x2="140.04" y2="327.67" stroke="#f39419" stroke-width="1.1"/>
<line x1="149.67" y1="387.63" x2="149.67" y2="393.63" stroke="#f39419" stroke-width="1.1"/>
<line x1="147.07" y1="387.63" x2="152.27" y2="387.63" stroke="#f39419" stroke-width="1.1"/>
<line x1="147.07" y1="393.63" x2="152.27" y2="393.63" stroke="#f39419" stroke-width="1.1"/>
<line x1="161.90" y1="391.43" x2="161.90" y2="395.43" stroke="#f39419" stroke-width="1.1"/>
<line x1="159.30" y1="391.43" x2="164.50" y2="391.43" stroke="#f39419" stroke-width="1.1"/>
<line x1="159.30" y1="395.43" x2="164.50" y2="395.43" stroke="#f39419" stroke-width="1.1"/>
<line x1="174.13" y1="390.43" x2="174.13" y2="396.43" stroke="#f39419" stroke-width="1.1"/>
<line x1="171.53" y1="390.43" x2="176.73" y2="390.43" stroke="#f39419" stroke-width="1.1"/>
<line x1="171.53" y1="396.43" x2="176.73" y2="396.43" stroke="#f39419" stroke-width="1.1"/>
<rect x="37.40" y="393.92" width="4.40" height="4.40" fill="#f39419"/>
<rect x="49.63" y="391.53" width="4.40" height="4.40" fill="#f39419"/>
<rect x="61.86" y="390.33" width="4.40" height="4.40" fill="#f39419"/>
<rect x="74.09" y="357.30" width="4.40" height="4.40" fill="#f39419"/>
<rect x="86.32" y="357.30" width="4.40" height="4.40" fill="#f39419"/>
<rect x="98.55" y="357.30" width="4.40" height="4.40" fill="#f39419"/>
<rect x="110.78" y="322.97" width="4.40" height="4.40" fill="#f39419"/>
<rect x="123.01" y="322.47" width="4.40" height="4.40" fill="#f39419"/>
<rect x="135.24" y="322.47" width="4.40" height="4.40" fill="#f39419"/>
<rect x="147.47" y="388.43" width="4.40" height="4.40" fill="#f39419"/>
<rect x="159.70" y="391.23" width="4.40" height="4.40" fill="#f39419"/>
<rect x="171.93" y="391.23" width="4.40" height="4.40" fill="#f39419"/>
<polyline points="39.60,398.62 51.83,398.22 64.06,397.82 76.29,376.86 88.52,375.86 100.75,375.96 112.98,360.89 125.21,361.39 137.44,363.09 149.67,398.32 161.90,400.02 174.13,400.02" fill="none" stroke="#e8262a" stroke-width="0.75"/>
<line x1="39.60" y1="397.62" x2="39.60" y2="399.62" stroke="#e8262a" stroke-width="1.1"/>
<line x1="37.00" y1="397.62" x2="42.20" y2="397.62" stroke="#e8262a" stroke-width="1.1"/>
<line x1="37.00" y1="399.62" x2="42.20" y2="399.62" stroke="#e8262a" stroke-width="1.1"/>
<line x1="51.83" y1="397.22" x2="51.83" y2="399.22" stroke="#e8262a" stroke-width="1.1"/>
<line x1="49.23" y1="397.22" x2="54.43" y2="397.22" stroke="#e8262a" stroke-width="1.1"/>
<line x1="49.23" y1="399.22" x2="54.43" y2="399.22" stroke="#e8262a" stroke-width="1.1"/>
<line x1="64.06" y1="396.82" x2="64.06" y2="398.82" stroke="#e8262a" stroke-width="1.1"/>
<line x1="61.46" y1="396.82" x2="66.66" y2="396.82" stroke="#e8262a" stroke-width="1.1"/>
<line x1="61.46" y1="398.82" x2="66.66" y2="398.82" stroke="#e8262a" stroke-width="1.1"/>
<line x1="76.29" y1="373.36" x2="76.29" y2="380.36" stroke="#e8262a" stroke-width="1.1"/>
<line x1="73.69" y1="373.36" x2="78.89" y2="373.36" stroke="#e8262a" stroke-width="1.1"/>
<line x1="73.69" y1="380.36" x2="78.89" y2="380.36" stroke="#e8262a" stroke-width="1.1"/>
<line x1="88.52" y1="372.36" x2="88.52" y2="379.36" stroke="#e8262a" stroke-width="1.1"/>
<line x1="85.92" y1="372.36" x2="91.12" y2="372.36" stroke="#e8262a" stroke-width="1.1"/>
<line x1="85.92" y1="379.36" x2="91.12" y2="379.36" stroke="#e8262a" stroke-width="1.1"/>
<line x1="100.75" y1="372.46" x2="100.75" y2="379.46" stroke="#e8262a" stroke-width="1.1"/>
<line x1="98.15" y1="372.46" x2="103.35" y2="372.46" stroke="#e8262a" stroke-width="1.1"/>
<line x1="98.15" y1="379.46" x2="103.35" y2="379.46" stroke="#e8262a" stroke-width="1.1"/>
<line x1="112.98" y1="357.39" x2="112.98" y2="364.39" stroke="#e8262a" stroke-width="1.1"/>
<line x1="110.38" y1="357.39" x2="115.58" y2="357.39" stroke="#e8262a" stroke-width="1.1"/>
<line x1="110.38" y1="364.39" x2="115.58" y2="364.39" stroke="#e8262a" stroke-width="1.1"/>
<line x1="125.21" y1="355.39" x2="125.21" y2="367.39" stroke="#e8262a" stroke-width="1.1"/>
<line x1="122.61" y1="355.39" x2="127.81" y2="355.39" stroke="#e8262a" stroke-width="1.1"/>
<line x1="122.61" y1="367.39" x2="127.81" y2="367.39" stroke="#e8262a" stroke-width="1.1"/>
<line x1="137.44" y1="359.09" x2="137.44" y2="367.09" stroke="#e8262a" stroke-width="1.1"/>
<line x1="134.84" y1="359.09" x2="140.04" y2="359.09" stroke="#e8262a" stroke-width="1.1"/>
<line x1="134.84" y1="367.09" x2="140.04" y2="367.09" stroke="#e8262a" stroke-width="1.1"/>
<line x1="149.67" y1="397.32" x2="149.67" y2="399.32" stroke="#e8262a" stroke-width="1.1"/>
<line x1="147.07" y1="397.32" x2="152.27" y2="397.32" stroke="#e8262a" stroke-width="1.1"/>
<line x1="147.07" y1="399.32" x2="152.27" y2="399.32" stroke="#e8262a" stroke-width="1.1"/>
<line x1="161.90" y1="399.02" x2="161.90" y2="401.02" stroke="#e8262a" stroke-width="1.1"/>
<line x1="159.30" y1="399.02" x2="164.50" y2="399.02" stroke="#e8262a" stroke-width="1.1"/>
<line x1="159.30" y1="401.02" x2="164.50" y2="401.02" stroke="#e8262a" stroke-width="1.1"/>
<line x1="174.13" y1="399.02" x2="174.13" y2="401.02" stroke="#e8262a" stroke-width="1.1"/>
<line x1="171.53" y1="399.02" x2="176.73" y2="399.02" stroke="#e8262a" stroke-width="1.1"/>
<line x1="171.53" y1="401.02" x2="176.73" y2="401.02" stroke="#e8262a" stroke-width="1.1"/>
<polygon points="37.20,396.62 42.00,396.62 39.60,401.02" fill="#e8262a"/>
<polygon points="49.43,396.22 54.23,396.22 51.83,400.62" fill="#e8262a"/>
<polygon points="61.66,395.82 66.46,395.82 64.06,400.22" fill="#e8262a"/>
<polygon points="73.89,374.86 78.69,374.86 76.29,379.26" fill="#e8262a"/>
<polygon points="86.12,373.86 90.92,373.86 88.52,378.26" fill="#e8262a"/>
<polygon points="98.35,373.96 103.15,373.96 100.75,378.36" fill="#e8262a"/>
<polygon points="110.58,358.89 115.38,358.89 112.98,363.29" fill="#e8262a"/>
<polygon points="122.81,359.39 127.61,359.39 125.21,363.79" fill="#e8262a"/>
<polygon points="135.04,361.09 139.84,361.09 137.44,365.49" fill="#e8262a"/>
<polygon points="147.27,396.32 152.07,396.32 149.67,400.72" fill="#e8262a"/>
<polygon points="159.50,398.02 164.30,398.02 161.90,402.42" fill="#e8262a"/>
<polygon points="171.73,398.02 176.53,398.02 174.13,402.42" fill="#e8262a"/>
<polyline points="39.60,400.71 51.83,400.41 64.06,398.52 76.29,384.25 88.52,382.45 100.75,382.75 112.98,370.87 125.21,372.17 137.44,372.17 149.67,399.22 161.90,400.31 174.13,400.31" fill="none" stroke="#000" stroke-width="0.75"/>
<line x1="39.60" y1="399.71" x2="39.60" y2="401.71" stroke="#000" stroke-width="1.1"/>
<line x1="37.00" y1="399.71" x2="42.20" y2="399.71" stroke="#000" stroke-width="1.1"/>
<line x1="37.00" y1="401.71" x2="42.20" y2="401.71" stroke="#000" stroke-width="1.1"/>
<line x1="51.83" y1="398.41" x2="51.83" y2="402.41" stroke="#000" stroke-width="1.1"/>
<line x1="49.23" y1="398.41" x2="54.43" y2="398.41" stroke="#000" stroke-width="1.1"/>
<line x1="49.23" y1="402.41" x2="54.43" y2="402.41" stroke="#000" stroke-width="1.1"/>
<line x1="64.06" y1="397.52" x2="64.06" y2="399.52" stroke="#000" stroke-width="1.1"/>
<line x1="61.46" y1="397.52" x2="66.66" y2="397.52" stroke="#000" stroke-width="1.1"/>
<line x1="61.46" y1="399.52" x2="66.66" y2="399.52" stroke="#000" stroke-width="1.1"/>
<line x1="76.29" y1="382.25" x2="76.29" y2="386.25" stroke="#000" stroke-width="1.1"/>
<line x1="73.69" y1="382.25" x2="78.89" y2="382.25" stroke="#000" stroke-width="1.1"/>
<line x1="73.69" y1="386.25" x2="78.89" y2="386.25" stroke="#000" stroke-width="1.1"/>
<line x1="88.52" y1="380.45" x2="88.52" y2="384.45" stroke="#000" stroke-width="1.1"/>
<line x1="85.92" y1="380.45" x2="91.12" y2="380.45" stroke="#000" stroke-width="1.1"/>
<line x1="85.92" y1="384.45" x2="91.12" y2="384.45" stroke="#000" stroke-width="1.1"/>
<line x1="100.75" y1="380.75" x2="100.75" y2="384.75" stroke="#000" stroke-width="1.1"/>
<line x1="98.15" y1="380.75" x2="103.35" y2="380.75" stroke="#000" stroke-width="1.1"/>
<line x1="98.15" y1="384.75" x2="103.35" y2="384.75" stroke="#000" stroke-width="1.1"/>
<line x1="112.98" y1="368.87" x2="112.98" y2="372.87" stroke="#000" stroke-width="1.1"/>
<line x1="110.38" y1="368.87" x2="115.58" y2="368.87" stroke="#000" stroke-width="1.1"/>
<line x1="110.38" y1="372.87" x2="115.58" y2="372.87" stroke="#000" stroke-width="1.1"/>
<line x1="125.21" y1="370.67" x2="125.21" y2="373.67" stroke="#000" stroke-width="1.1"/>
<line x1="122.61" y1="370.67" x2="127.81" y2="370.67" stroke="#000" stroke-width="1.1"/>
<line x1="122.61" y1="373.67" x2="127.81" y2="373.67" stroke="#000" stroke-width="1.1"/>
<line x1="137.44" y1="370.67" x2="137.44" y2="373.67" stroke="#000" stroke-width="1.1"/>
<line x1="134.84" y1="370.67" x2="140.04" y2="370.67" stroke="#000" stroke-width="1.1"/>
<line x1="134.84" y1="373.67" x2="140.04" y2="373.67" stroke="#000" stroke-width="1.1"/>
<line x1="149.67" y1="398.22" x2="149.67" y2="400.22" stroke="#000" stroke-width="1.1"/>
<line x1="147.07" y1="398.22" x2="152.27" y2="398.22" stroke="#000" stroke-width="1.1"/>
<line x1="147.07" y1="400.22" x2="152.27" y2="400.22" stroke="#000" stroke-width="1.1"/>
<line x1="161.90" y1="399.31" x2="161.90" y2="401.31" stroke="#000" stroke-width="1.1"/>
<line x1="159.30" y1="399.31" x2="164.50" y2="399.31" stroke="#000" stroke-width="1.1"/>
<line x1="159.30" y1="401.31" x2="164.50" y2="401.31" stroke="#000" stroke-width="1.1"/>
<line x1="174.13" y1="399.31" x2="174.13" y2="401.31" stroke="#000" stroke-width="1.1"/>
<line x1="171.53" y1="399.31" x2="176.73" y2="399.31" stroke="#000" stroke-width="1.1"/>
<line x1="171.53" y1="401.31" x2="176.73" y2="401.31" stroke="#000" stroke-width="1.1"/>
<circle cx="39.60" cy="400.71" r="2.10" fill="#000"/>
<circle cx="51.83" cy="400.41" r="2.10" fill="#000"/>
<circle cx="64.06" cy="398.52" r="2.10" fill="#000"/>
<circle cx="76.29" cy="384.25" r="2.10" fill="#000"/>
<circle cx="88.52" cy="382.45" r="2.10" fill="#000"/>
<circle cx="100.75" cy="382.75" r="2.10" fill="#000"/>
<circle cx="112.98" cy="370.87" r="2.10" fill="#000"/>
<circle cx="125.21" cy="372.17" r="2.10" fill="#000"/>
<circle cx="137.44" cy="372.17" r="2.10" fill="#000"/>
<circle cx="149.67" cy="399.22" r="2.10" fill="#000"/>
<circle cx="161.90" cy="400.31" r="2.10" fill="#000"/>
<circle cx="174.13" cy="400.31" r="2.10" fill="#000"/>
<line x1="168.70" y1="310.60" x2="180.20" y2="310.60" stroke="#000" stroke-width="0.9"/>
<circle cx="174.45" cy="310.60" r="2.00" fill="#000"/>
<text x="184.00" y="313.55" font-size="8.25" text-anchor="start" stroke="#111" stroke-width="0.18" fill="#111">MTAP-WT+shCON</text>
<line x1="168.70" y1="325.00" x2="180.20" y2="325.00" stroke="#f39419" stroke-width="0.9"/>
<rect x="172.45" y="323.00" width="4.00" height="4.00" fill="#f39419"/>
<text x="184.00" y="327.95" font-size="8.25" text-anchor="start" stroke="#111" stroke-width="0.18" fill="#111">MTAP-KO+shCON</text>
<line x1="168.70" y1="339.40" x2="180.20" y2="339.40" stroke="#e8262a" stroke-width="0.9"/>
<polygon points="172.17,337.50 176.73,337.50 174.45,341.68" fill="#e8262a"/>
<text x="184.00" y="342.35" font-size="8.25" text-anchor="start" stroke="#111" stroke-width="0.18" fill="#111">MTAP-KO+shRIOK1</text>
<line x1="319.20" y1="313.30" x2="319.20" y2="409.40" stroke="#1a1a1a" stroke-width="1.3"/>
<line x1="318.60" y1="408.80" x2="462.80" y2="408.80" stroke="#1a1a1a" stroke-width="1.3"/>
<line x1="315.90" y1="408.80" x2="319.20" y2="408.80" stroke="#1a1a1a" stroke-width="1.2"/>
<text x="315.30" y="411.56" font-size="7.7" text-anchor="end" stroke="#111" stroke-width="0.18" fill="#111">0</text>
<line x1="315.90" y1="389.80" x2="319.20" y2="389.80" stroke="#1a1a1a" stroke-width="1.2"/>
<text x="315.30" y="392.56" font-size="7.7" text-anchor="end" stroke="#111" stroke-width="0.18" fill="#111">200</text>
<line x1="315.90" y1="370.80" x2="319.20" y2="370.80" stroke="#1a1a1a" stroke-width="1.2"/>
<text x="315.30" y="373.56" font-size="7.7" text-anchor="end" stroke="#111" stroke-width="0.18" fill="#111">400</text>
<line x1="315.90" y1="351.80" x2="319.20" y2="351.80" stroke="#1a1a1a" stroke-width="1.2"/>
<text x="315.30" y="354.56" font-size="7.7" text-anchor="end" stroke="#111" stroke-width="0.18" fill="#111">600</text>
<line x1="315.90" y1="332.80" x2="319.20" y2="332.80" stroke="#1a1a1a" stroke-width="1.2"/>
<text x="315.30" y="335.56" font-size="7.7" text-anchor="end" stroke="#111" stroke-width="0.18" fill="#111">800</text>
<line x1="315.90" y1="313.80" x2="319.20" y2="313.80" stroke="#1a1a1a" stroke-width="1.2"/>
<text x="315.30" y="316.56" font-size="7.7" text-anchor="end" stroke="#111" stroke-width="0.18" textLength="17.0" lengthAdjust="spacingAndGlyphs" fill="#111">1,000</text>
<line x1="319.20" y1="408.80" x2="319.20" y2="411.60" stroke="#1a1a1a" stroke-width="1.2"/>
<text x="319.20" y="420.16" font-size="7.7" text-anchor="middle" stroke="#111" stroke-width="0.18" fill="#111">0</text>
<line x1="355.00" y1="408.80" x2="355.00" y2="411.60" stroke="#1a1a1a" stroke-width="1.2"/>
<text x="355.00" y="420.16" font-size="7.7" text-anchor="middle" stroke="#111" stroke-width="0.18" fill="#111">20</text>
<line x1="390.80" y1="408.80" x2="390.80" y2="411.60" stroke="#1a1a1a" stroke-width="1.2"/>
<text x="390.80" y="420.16" font-size="7.7" text-anchor="middle" stroke="#111" stroke-width="0.18" fill="#111">40</text>
<line x1="426.60" y1="408.80" x2="426.60" y2="411.60" stroke="#1a1a1a" stroke-width="1.2"/>
<text x="426.60" y="420.16" font-size="7.7" text-anchor="middle" stroke="#111" stroke-width="0.18" fill="#111">60</text>
<line x1="462.40" y1="408.80" x2="462.40" y2="411.60" stroke="#1a1a1a" stroke-width="1.2"/>
<text x="462.40" y="420.16" font-size="7.7" text-anchor="middle" stroke="#111" stroke-width="0.18" fill="#111">80</text>
<text transform="translate(295.00,360.30) rotate(-90)" font-size="8.9" text-anchor="middle" stroke="#111" stroke-width="0.18" fill="#111">ECAR (mPH/min)</text>
<text x="391.40" y="432.19" font-size="7.8" text-anchor="middle" stroke="#111" stroke-width="0.18" fill="#111">Time (minutes)</text>
<text x="319.50" y="300.23" font-size="7.9" text-anchor="start" font-weight="bold" fill="#000">MIA PaCa-2</text>
<line x1="319.50" y1="303.00" x2="365.40" y2="303.00" stroke="#111" stroke-width="1.3"/>
<text x="325.00" y="356.20" font-size="6.7" text-anchor="start" font-weight="bold" letter-spacing="0.2" fill="#000">Glucose</text>
<line x1="343.00" y1="360.80" x2="343.00" y2="385.40" stroke="#111" stroke-width="1.1"/>
<polygon points="341.20,384.90 344.80,384.90 343.00,389.40" fill="#111"/>
<text x="359.00" y="314.40" font-size="6.7" text-anchor="start" font-weight="bold" letter-spacing="0.2" fill="#000">Oligomycin</text>
<line x1="377.60" y1="318.80" x2="377.60" y2="343.70" stroke="#111" stroke-width="1.1"/>
<polygon points="375.80,343.20 379.40,343.20 377.60,347.70" fill="#111"/>
<text x="402.00" y="303.90" font-size="6.7" text-anchor="start" font-weight="bold" letter-spacing="0.2" fill="#000">2-DG</text>
<line x1="410.60" y1="306.00" x2="410.60" y2="319.20" stroke="#111" stroke-width="1.1"/>
<polygon points="408.80,318.70 412.40,318.70 410.60,323.20" fill="#111"/>
<polyline points="321.30,405.00 333.04,405.86 344.78,403.00 356.52,390.85 368.26,389.99 380.00,389.13 391.74,374.98 403.48,376.60 415.22,376.03 426.96,398.44 438.70,401.01 450.44,399.97" fill="none" stroke="#2fb53a" stroke-width="0.75"/>
<line x1="321.30" y1="403.50" x2="321.30" y2="406.50" stroke="#2fb53a" stroke-width="1.1"/>
<line x1="318.70" y1="403.50" x2="323.90" y2="403.50" stroke="#2fb53a" stroke-width="1.1"/>
<line x1="318.70" y1="406.50" x2="323.90" y2="406.50" stroke="#2fb53a" stroke-width="1.1"/>
<line x1="333.04" y1="404.36" x2="333.04" y2="407.36" stroke="#2fb53a" stroke-width="1.1"/>
<line x1="330.44" y1="404.36" x2="335.64" y2="404.36" stroke="#2fb53a" stroke-width="1.1"/>
<line x1="330.44" y1="407.36" x2="335.64" y2="407.36" stroke="#2fb53a" stroke-width="1.1"/>
<line x1="344.78" y1="401.50" x2="344.78" y2="404.50" stroke="#2fb53a" stroke-width="1.1"/>
<line x1="342.18" y1="401.50" x2="347.38" y2="401.50" stroke="#2fb53a" stroke-width="1.1"/>
<line x1="342.18" y1="404.50" x2="347.38" y2="404.50" stroke="#2fb53a" stroke-width="1.1"/>
<line x1="356.52" y1="387.05" x2="356.52" y2="394.65" stroke="#2fb53a" stroke-width="1.1"/>
<line x1="353.92" y1="387.05" x2="359.12" y2="387.05" stroke="#2fb53a" stroke-width="1.1"/>
<line x1="353.92" y1="394.65" x2="359.12" y2="394.65" stroke="#2fb53a" stroke-width="1.1"/>
<line x1="368.26" y1="386.49" x2="368.26" y2="393.49" stroke="#2fb53a" stroke-width="1.1"/>
<line x1="365.66" y1="386.49" x2="370.86" y2="386.49" stroke="#2fb53a" stroke-width="1.1"/>
<line x1="365.66" y1="393.49" x2="370.86" y2="393.49" stroke="#2fb53a" stroke-width="1.1"/>
<line x1="380.00" y1="383.33" x2="380.00" y2="394.94" stroke="#2fb53a" stroke-width="1.1"/>
<line x1="377.40" y1="383.33" x2="382.60" y2="383.33" stroke="#2fb53a" stroke-width="1.1"/>
<line x1="377.40" y1="394.94" x2="382.60" y2="394.94" stroke="#2fb53a" stroke-width="1.1"/>
<line x1="391.74" y1="372.48" x2="391.74" y2="377.48" stroke="#2fb53a" stroke-width="1.1"/>
<line x1="389.14" y1="372.48" x2="394.34" y2="372.48" stroke="#2fb53a" stroke-width="1.1"/>
<line x1="389.14" y1="377.48" x2="394.34" y2="377.48" stroke="#2fb53a" stroke-width="1.1"/>
<line x1="403.48" y1="374.10" x2="403.48" y2="379.10" stroke="#2fb53a" stroke-width="1.1"/>
<line x1="400.88" y1="374.10" x2="406.08" y2="374.10" stroke="#2fb53a" stroke-width="1.1"/>
<line x1="400.88" y1="379.10" x2="406.08" y2="379.10" stroke="#2fb53a" stroke-width="1.1"/>
<line x1="415.22" y1="373.53" x2="415.22" y2="378.53" stroke="#2fb53a" stroke-width="1.1"/>
<line x1="412.62" y1="373.53" x2="417.82" y2="373.53" stroke="#2fb53a" stroke-width="1.1"/>
<line x1="412.62" y1="378.53" x2="417.82" y2="378.53" stroke="#2fb53a" stroke-width="1.1"/>
<line x1="426.96" y1="396.94" x2="426.96" y2="399.94" stroke="#2fb53a" stroke-width="1.1"/>
<line x1="424.36" y1="396.94" x2="429.56" y2="396.94" stroke="#2fb53a" stroke-width="1.1"/>
<line x1="424.36" y1="399.94" x2="429.56" y2="399.94" stroke="#2fb53a" stroke-width="1.1"/>
<line x1="438.70" y1="399.51" x2="438.70" y2="402.51" stroke="#2fb53a" stroke-width="1.1"/>
<line x1="436.10" y1="399.51" x2="441.30" y2="399.51" stroke="#2fb53a" stroke-width="1.1"/>
<line x1="436.10" y1="402.51" x2="441.30" y2="402.51" stroke="#2fb53a" stroke-width="1.1"/>
<line x1="450.44" y1="398.47" x2="450.44" y2="401.47" stroke="#2fb53a" stroke-width="1.1"/>
<line x1="447.84" y1="398.47" x2="453.04" y2="398.47" stroke="#2fb53a" stroke-width="1.1"/>
<line x1="447.84" y1="401.47" x2="453.04" y2="401.47" stroke="#2fb53a" stroke-width="1.1"/>
<rect x="319.10" y="402.80" width="4.40" height="4.40" fill="#2fb53a"/>
<rect x="330.84" y="403.66" width="4.40" height="4.40" fill="#2fb53a"/>
<rect x="342.58" y="400.81" width="4.40" height="4.40" fill="#2fb53a"/>
<rect x="354.32" y="388.65" width="4.40" height="4.40" fill="#2fb53a"/>
<rect x="366.06" y="387.79" width="4.40" height="4.40" fill="#2fb53a"/>
<rect x="377.80" y="386.94" width="4.40" height="4.40" fill="#2fb53a"/>
<rect x="389.54" y="372.78" width="4.40" height="4.40" fill="#2fb53a"/>
<rect x="401.28" y="374.40" width="4.40" height="4.40" fill="#2fb53a"/>
<rect x="413.02" y="373.83" width="4.40" height="4.40" fill="#2fb53a"/>
<rect x="424.76" y="396.25" width="4.40" height="4.40" fill="#2fb53a"/>
<rect x="436.50" y="398.81" width="4.40" height="4.40" fill="#2fb53a"/>
<rect x="448.24" y="397.77" width="4.40" height="4.40" fill="#2fb53a"/>
<polyline points="321.30,404.24 333.04,405.00 344.78,403.29 356.52,368.33 368.26,368.33 380.00,368.33 391.74,339.64 403.48,340.97 415.22,342.97 426.96,398.35 438.70,399.30 450.44,399.30" fill="none" stroke="#b7916a" stroke-width="0.75"/>
<line x1="321.30" y1="403.24" x2="321.30" y2="405.24" stroke="#b7916a" stroke-width="1.1"/>
<line x1="318.70" y1="403.24" x2="323.90" y2="403.24" stroke="#b7916a" stroke-width="1.1"/>
<line x1="318.70" y1="405.24" x2="323.90" y2="405.24" stroke="#b7916a" stroke-width="1.1"/>
<line x1="333.04" y1="404.00" x2="333.04" y2="406.00" stroke="#b7916a" stroke-width="1.1"/>
<line x1="330.44" y1="404.00" x2="335.64" y2="404.00" stroke="#b7916a" stroke-width="1.1"/>
<line x1="330.44" y1="406.00" x2="335.64" y2="406.00" stroke="#b7916a" stroke-width="1.1"/>
<line x1="344.78" y1="402.29" x2="344.78" y2="404.29" stroke="#b7916a" stroke-width="1.1"/>
<line x1="342.18" y1="402.29" x2="347.38" y2="402.29" stroke="#b7916a" stroke-width="1.1"/>
<line x1="342.18" y1="404.29" x2="347.38" y2="404.29" stroke="#b7916a" stroke-width="1.1"/>
<line x1="356.52" y1="365.83" x2="356.52" y2="370.83" stroke="#b7916a" stroke-width="1.1"/>
<line x1="353.92" y1="365.83" x2="359.12" y2="365.83" stroke="#b7916a" stroke-width="1.1"/>
<line x1="353.92" y1="370.83" x2="359.12" y2="370.83" stroke="#b7916a" stroke-width="1.1"/>
<line x1="368.26" y1="365.83" x2="368.26" y2="370.83" stroke="#b7916a" stroke-width="1.1"/>
<line x1="365.66" y1="365.83" x2="370.86" y2="365.83" stroke="#b7916a" stroke-width="1.1"/>
<line x1="365.66" y1="370.83" x2="370.86" y2="370.83" stroke="#b7916a" stroke-width="1.1"/>
<line x1="380.00" y1="365.03" x2="380.00" y2="371.63" stroke="#b7916a" stroke-width="1.1"/>
<line x1="377.40" y1="365.03" x2="382.60" y2="365.03" stroke="#b7916a" stroke-width="1.1"/>
<line x1="377.40" y1="371.63" x2="382.60" y2="371.63" stroke="#b7916a" stroke-width="1.1"/>
<line x1="391.74" y1="337.14" x2="391.74" y2="342.14" stroke="#b7916a" stroke-width="1.1"/>
<line x1="389.14" y1="337.14" x2="394.34" y2="337.14" stroke="#b7916a" stroke-width="1.1"/>
<line x1="389.14" y1="342.14" x2="394.34" y2="342.14" stroke="#b7916a" stroke-width="1.1"/>
<line x1="403.48" y1="338.47" x2="403.48" y2="343.47" stroke="#b7916a" stroke-width="1.1"/>
<line x1="400.88" y1="338.47" x2="406.08" y2="338.47" stroke="#b7916a" stroke-width="1.1"/>
<line x1="400.88" y1="343.47" x2="406.08" y2="343.47" stroke="#b7916a" stroke-width="1.1"/>
<line x1="415.22" y1="338.47" x2="415.22" y2="347.47" stroke="#b7916a" stroke-width="1.1"/>
<line x1="412.62" y1="338.47" x2="417.82" y2="338.47" stroke="#b7916a" stroke-width="1.1"/>
<line x1="412.62" y1="347.47" x2="417.82" y2="347.47" stroke="#b7916a" stroke-width="1.1"/>
<line x1="426.96" y1="397.35" x2="426.96" y2="399.35" stroke="#b7916a" stroke-width="1.1"/>
<line x1="424.36" y1="397.35" x2="429.56" y2="397.35" stroke="#b7916a" stroke-width="1.1"/>
<line x1="424.36" y1="399.35" x2="429.56" y2="399.35" stroke="#b7916a" stroke-width="1.1"/>
<line x1="438.70" y1="398.30" x2="438.70" y2="400.30" stroke="#b7916a" stroke-width="1.1"/>
<line x1="436.10" y1="398.30" x2="441.30" y2="398.30" stroke="#b7916a" stroke-width="1.1"/>
<line x1="436.10" y1="400.30" x2="441.30" y2="400.30" stroke="#b7916a" stroke-width="1.1"/>
<line x1="450.44" y1="398.30" x2="450.44" y2="400.30" stroke="#b7916a" stroke-width="1.1"/>
<line x1="447.84" y1="398.30" x2="453.04" y2="398.30" stroke="#b7916a" stroke-width="1.1"/>
<line x1="447.84" y1="400.30" x2="453.04" y2="400.30" stroke="#b7916a" stroke-width="1.1"/>
<polygon points="318.90,406.24 323.70,406.24 321.30,401.84" fill="#b7916a"/>
<polygon points="330.64,407.00 335.44,407.00 333.04,402.60" fill="#b7916a"/>
<polygon points="342.38,405.29 347.18,405.29 344.78,400.89" fill="#b7916a"/>
<polygon points="354.12,370.33 358.92,370.33 356.52,365.93" fill="#b7916a"/>
<polygon points="365.86,370.33 370.66,370.33 368.26,365.93" fill="#b7916a"/>
<polygon points="377.60,370.33 382.40,370.33 380.00,365.93" fill="#b7916a"/>
<polygon points="389.34,341.64 394.14,341.64 391.74,337.24" fill="#b7916a"/>
<polygon points="401.08,342.97 405.88,342.97 403.48,338.57" fill="#b7916a"/>
<polygon points="412.82,344.97 417.62,344.97 415.22,340.57" fill="#b7916a"/>
<polygon points="424.56,400.35 429.36,400.35 426.96,395.95" fill="#b7916a"/>
<polygon points="436.30,401.30 441.10,401.30 438.70,396.90" fill="#b7916a"/>
<polygon points="448.04,401.30 452.84,401.30 450.44,396.90" fill="#b7916a"/>
<polyline points="321.30,399.68 333.04,403.29 344.78,402.53 356.52,363.68 368.26,359.97 380.00,355.79 391.74,329.57 403.48,331.56 415.22,332.99 426.96,397.59 438.70,397.97 450.44,399.01" fill="none" stroke="#000" stroke-width="0.75"/>
<line x1="321.30" y1="396.78" x2="321.30" y2="402.58" stroke="#000" stroke-width="1.1"/>
<line x1="318.70" y1="396.78" x2="323.90" y2="396.78" stroke="#000" stroke-width="1.1"/>
<line x1="318.70" y1="402.58" x2="323.90" y2="402.58" stroke="#000" stroke-width="1.1"/>
<line x1="333.04" y1="400.79" x2="333.04" y2="405.79" stroke="#000" stroke-width="1.1"/>
<line x1="330.44" y1="400.79" x2="335.64" y2="400.79" stroke="#000" stroke-width="1.1"/>
<line x1="330.44" y1="405.79" x2="335.64" y2="405.79" stroke="#000" stroke-width="1.1"/>
<line x1="344.78" y1="400.53" x2="344.78" y2="404.53" stroke="#000" stroke-width="1.1"/>
<line x1="342.18" y1="400.53" x2="347.38" y2="400.53" stroke="#000" stroke-width="1.1"/>
<line x1="342.18" y1="404.53" x2="347.38" y2="404.53" stroke="#000" stroke-width="1.1"/>
<line x1="356.52" y1="355.98" x2="356.52" y2="371.38" stroke="#000" stroke-width="1.1"/>
<line x1="353.92" y1="355.98" x2="359.12" y2="355.98" stroke="#000" stroke-width="1.1"/>
<line x1="353.92" y1="371.38" x2="359.12" y2="371.38" stroke="#000" stroke-width="1.1"/>
<line x1="368.26" y1="356.07" x2="368.26" y2="363.87" stroke="#000" stroke-width="1.1"/>
<line x1="365.66" y1="356.07" x2="370.86" y2="356.07" stroke="#000" stroke-width="1.1"/>
<line x1="365.66" y1="363.87" x2="370.86" y2="363.87" stroke="#000" stroke-width="1.1"/>
<line x1="380.00" y1="352.29" x2="380.00" y2="359.29" stroke="#000" stroke-width="1.1"/>
<line x1="377.40" y1="352.29" x2="382.60" y2="352.29" stroke="#000" stroke-width="1.1"/>
<line x1="377.40" y1="359.29" x2="382.60" y2="359.29" stroke="#000" stroke-width="1.1"/>
<line x1="391.74" y1="327.07" x2="391.74" y2="332.07" stroke="#000" stroke-width="1.1"/>
<line x1="389.14" y1="327.07" x2="394.34" y2="327.07" stroke="#000" stroke-width="1.1"/>
<line x1="389.14" y1="332.07" x2="394.34" y2="332.07" stroke="#000" stroke-width="1.1"/>
<line x1="403.48" y1="326.56" x2="403.48" y2="336.56" stroke="#000" stroke-width="1.1"/>
<line x1="400.88" y1="326.56" x2="406.08" y2="326.56" stroke="#000" stroke-width="1.1"/>
<line x1="400.88" y1="336.56" x2="406.08" y2="336.56" stroke="#000" stroke-width="1.1"/>
<line x1="415.22" y1="327.49" x2="415.22" y2="338.49" stroke="#000" stroke-width="1.1"/>
<line x1="412.62" y1="327.49" x2="417.82" y2="327.49" stroke="#000" stroke-width="1.1"/>
<line x1="412.62" y1="338.49" x2="417.82" y2="338.49" stroke="#000" stroke-width="1.1"/>
<line x1="426.96" y1="395.59" x2="426.96" y2="399.59" stroke="#000" stroke-width="1.1"/>
<line x1="424.36" y1="395.59" x2="429.56" y2="395.59" stroke="#000" stroke-width="1.1"/>
<line x1="424.36" y1="399.59" x2="429.56" y2="399.59" stroke="#000" stroke-width="1.1"/>
<line x1="438.70" y1="395.97" x2="438.70" y2="399.97" stroke="#000" stroke-width="1.1"/>
<line x1="436.10" y1="395.97" x2="441.30" y2="395.97" stroke="#000" stroke-width="1.1"/>
<line x1="436.10" y1="399.97" x2="441.30" y2="399.97" stroke="#000" stroke-width="1.1"/>
<line x1="450.44" y1="397.51" x2="450.44" y2="400.51" stroke="#000" stroke-width="1.1"/>
<line x1="447.84" y1="397.51" x2="453.04" y2="397.51" stroke="#000" stroke-width="1.1"/>
<line x1="447.84" y1="400.51" x2="453.04" y2="400.51" stroke="#000" stroke-width="1.1"/>
<circle cx="321.30" cy="399.68" r="2.10" fill="#000"/>
<circle cx="333.04" cy="403.29" r="2.10" fill="#000"/>
<circle cx="344.78" cy="402.53" r="2.10" fill="#000"/>
<circle cx="356.52" cy="363.68" r="2.10" fill="#000"/>
<circle cx="368.26" cy="359.97" r="2.10" fill="#000"/>
<circle cx="380.00" cy="355.79" r="2.10" fill="#000"/>
<circle cx="391.74" cy="329.57" r="2.10" fill="#000"/>
<circle cx="403.48" cy="331.56" r="2.10" fill="#000"/>
<circle cx="415.22" cy="332.99" r="2.10" fill="#000"/>
<circle cx="426.96" cy="397.59" r="2.10" fill="#000"/>
<circle cx="438.70" cy="397.97" r="2.10" fill="#000"/>
<circle cx="450.44" cy="399.01" r="2.10" fill="#000"/>
<line x1="456.20" y1="314.60" x2="466.20" y2="314.60" stroke="#000" stroke-width="0.9"/>
<circle cx="461.20" cy="314.60" r="2.00" fill="#000"/>
<text x="472.00" y="317.46" font-size="8.0" text-anchor="start" stroke="#111" stroke-width="0.18" fill="#111">EV</text>
<line x1="456.20" y1="326.30" x2="466.20" y2="326.30" stroke="#2fb53a" stroke-width="0.9"/>
<rect x="459.20" y="324.30" width="4.00" height="4.00" fill="#2fb53a"/>
<text x="472.00" y="329.16" font-size="8.0" text-anchor="start" stroke="#111" stroke-width="0.18" fill="#111">MTAP</text>
<line x1="456.20" y1="338.20" x2="466.20" y2="338.20" stroke="#b7916a" stroke-width="0.9"/>
<polygon points="458.92,340.10 463.48,340.10 461.20,335.92" fill="#b7916a"/>
<text x="472.00" y="341.06" font-size="8.0" text-anchor="start" stroke="#111" stroke-width="0.18" fill="#111">MTAP+RIOK1</text>
<line x1="37.50" y1="475.48" x2="37.50" y2="573.30" stroke="#1a1a1a" stroke-width="1.3"/>
<line x1="36.90" y1="572.70" x2="182.70" y2="572.70" stroke="#1a1a1a" stroke-width="1.3"/>
<line x1="34.20" y1="572.70" x2="37.50" y2="572.70" stroke="#1a1a1a" stroke-width="1.2"/>
<text x="33.60" y="575.46" font-size="7.7" text-anchor="end" stroke="#111" stroke-width="0.18" fill="#111">0</text>
<line x1="34.20" y1="540.46" x2="37.50" y2="540.46" stroke="#1a1a1a" stroke-width="1.2"/>
<text x="33.60" y="543.22" font-size="7.7" text-anchor="end" stroke="#111" stroke-width="0.18" fill="#111">400</text>
<line x1="34.20" y1="508.22" x2="37.50" y2="508.22" stroke="#1a1a1a" stroke-width="1.2"/>
<text x="33.60" y="510.98" font-size="7.7" text-anchor="end" stroke="#111" stroke-width="0.18" fill="#111">800</text>
<line x1="34.20" y1="475.98" x2="37.50" y2="475.98" stroke="#1a1a1a" stroke-width="1.2"/>
<text x="33.60" y="478.74" font-size="7.7" text-anchor="end" stroke="#111" stroke-width="0.18" textLength="17.0" lengthAdjust="spacingAndGlyphs" fill="#111">1,200</text>
<line x1="37.50" y1="572.70" x2="37.50" y2="575.50" stroke="#1a1a1a" stroke-width="1.2"/>
<text x="37.50" y="583.06" font-size="7.7" text-anchor="middle" stroke="#111" stroke-width="0.18" fill="#111">0</text>
<line x1="73.75" y1="572.70" x2="73.75" y2="575.50" stroke="#1a1a1a" stroke-width="1.2"/>
<text x="73.75" y="583.06" font-size="7.7" text-anchor="middle" stroke="#111" stroke-width="0.18" fill="#111">20</text>
<line x1="110.00" y1="572.70" x2="110.00" y2="575.50" stroke="#1a1a1a" stroke-width="1.2"/>
<text x="110.00" y="583.06" font-size="7.7" text-anchor="middle" stroke="#111" stroke-width="0.18" fill="#111">40</text>
<line x1="146.25" y1="572.70" x2="146.25" y2="575.50" stroke="#1a1a1a" stroke-width="1.2"/>
<text x="146.25" y="583.06" font-size="7.7" text-anchor="middle" stroke="#111" stroke-width="0.18" fill="#111">60</text>
<line x1="182.50" y1="572.70" x2="182.50" y2="575.50" stroke="#1a1a1a" stroke-width="1.2"/>
<text x="182.50" y="583.06" font-size="7.7" text-anchor="middle" stroke="#111" stroke-width="0.18" fill="#111">80</text>
<text transform="translate(12.00,521.50) rotate(-90)" font-size="8.2" text-anchor="middle" stroke="#111" stroke-width="0.18" fill="#111">OCR (pMoles/min)</text>
<text x="111.20" y="596.49" font-size="7.8" text-anchor="middle" stroke="#111" stroke-width="0.18" fill="#111">Time (minutes)</text>
<text x="40.40" y="460.13" font-size="7.9" text-anchor="start" font-weight="bold" fill="#000">CFPAC-1</text>
<line x1="40.40" y1="463.50" x2="74.20" y2="463.50" stroke="#111" stroke-width="1.3"/>
<text x="48.70" y="491.40" font-size="6.7" text-anchor="start" font-weight="bold" letter-spacing="0.2" fill="#000">Oligomycin</text>
<line x1="65.00" y1="494.80" x2="65.00" y2="502.50" stroke="#111" stroke-width="1.1"/>
<polygon points="63.20,502.00 66.80,502.00 65.00,506.50" fill="#111"/>
<text x="86.50" y="509.80" font-size="6.7" text-anchor="start" font-weight="bold" letter-spacing="0.2" fill="#000">FCCP</text>
<line x1="97.60" y1="513.50" x2="97.60" y2="537.20" stroke="#111" stroke-width="1.1"/>
<polygon points="95.80,536.70 99.40,536.70 97.60,541.20" fill="#111"/>
<text x="118.50" y="466.90" font-size="6.7" text-anchor="start" font-weight="bold" letter-spacing="0.2" fill="#000">Antimycin A</text>
<text x="120.10" y="475.70" font-size="6.7" text-anchor="start" font-weight="bold" letter-spacing="0.2" fill="#000">&amp; Rotenone</text>
<line x1="135.30" y1="479.20" x2="135.30" y2="490.50" stroke="#111" stroke-width="1.1"/>
<polygon points="133.50,490.00 137.10,490.00 135.30,494.50" fill="#111"/>
<polyline points="39.40,547.15 51.33,549.08 63.26,549.08 75.19,563.03 87.12,563.03 99.05,563.03 110.98,532.88 122.91,532.88 134.84,536.43 146.77,564.32 158.70,564.64 170.63,564.64" fill="none" stroke="#f39419" stroke-width="0.75"/>
<line x1="39.40" y1="545.65" x2="39.40" y2="548.65" stroke="#f39419" stroke-width="1.1"/>
<line x1="36.80" y1="545.65" x2="42.00" y2="545.65" stroke="#f39419" stroke-width="1.1"/>
<line x1="36.80" y1="548.65" x2="42.00" y2="548.65" stroke="#f39419" stroke-width="1.1"/>
<line x1="51.33" y1="547.58" x2="51.33" y2="550.58" stroke="#f39419" stroke-width="1.1"/>
<line x1="48.73" y1="547.58" x2="53.93" y2="547.58" stroke="#f39419" stroke-width="1.1"/>
<line x1="48.73" y1="550.58" x2="53.93" y2="550.58" stroke="#f39419" stroke-width="1.1"/>
<line x1="63.26" y1="547.08" x2="63.26" y2="551.08" stroke="#f39419" stroke-width="1.1"/>
<line x1="60.66" y1="547.08" x2="65.86" y2="547.08" stroke="#f39419" stroke-width="1.1"/>
<line x1="60.66" y1="551.08" x2="65.86" y2="551.08" stroke="#f39419" stroke-width="1.1"/>
<line x1="75.19" y1="560.53" x2="75.19" y2="565.53" stroke="#f39419" stroke-width="1.1"/>
<line x1="72.59" y1="560.53" x2="77.79" y2="560.53" stroke="#f39419" stroke-width="1.1"/>
<line x1="72.59" y1="565.53" x2="77.79" y2="565.53" stroke="#f39419" stroke-width="1.1"/>
<line x1="87.12" y1="561.03" x2="87.12" y2="565.03" stroke="#f39419" stroke-width="1.1"/>
<line x1="84.52" y1="561.03" x2="89.72" y2="561.03" stroke="#f39419" stroke-width="1.1"/>
<line x1="84.52" y1="565.03" x2="89.72" y2="565.03" stroke="#f39419" stroke-width="1.1"/>
<line x1="99.05" y1="561.03" x2="99.05" y2="565.03" stroke="#f39419" stroke-width="1.1"/>
<line x1="96.45" y1="561.03" x2="101.65" y2="561.03" stroke="#f39419" stroke-width="1.1"/>
<line x1="96.45" y1="565.03" x2="101.65" y2="565.03" stroke="#f39419" stroke-width="1.1"/>
<line x1="110.98" y1="530.38" x2="110.98" y2="535.38" stroke="#f39419" stroke-width="1.1"/>
<line x1="108.38" y1="530.38" x2="113.58" y2="530.38" stroke="#f39419" stroke-width="1.1"/>
<line x1="108.38" y1="535.38" x2="113.58" y2="535.38" stroke="#f39419" stroke-width="1.1"/>
<line x1="122.91" y1="530.88" x2="122.91" y2="534.88" stroke="#f39419" stroke-width="1.1"/>
<line x1="120.31" y1="530.88" x2="125.51" y2="530.88" stroke="#f39419" stroke-width="1.1"/>
<line x1="120.31" y1="534.88" x2="125.51" y2="534.88" stroke="#f39419" stroke-width="1.1"/>
<line x1="134.84" y1="533.43" x2="134.84" y2="539.43" stroke="#f39419" stroke-width="1.1"/>
<line x1="132.24" y1="533.43" x2="137.44" y2="533.43" stroke="#f39419" stroke-width="1.1"/>
<line x1="132.24" y1="539.43" x2="137.44" y2="539.43" stroke="#f39419" stroke-width="1.1"/>
<line x1="146.77" y1="561.82" x2="146.77" y2="566.82" stroke="#f39419" stroke-width="1.1"/>
<line x1="144.17" y1="561.82" x2="149.37" y2="561.82" stroke="#f39419" stroke-width="1.1"/>
<line x1="144.17" y1="566.82" x2="149.37" y2="566.82" stroke="#f39419" stroke-width="1.1"/>
<line x1="158.70" y1="562.64" x2="158.70" y2="566.64" stroke="#f39419" stroke-width="1.1"/>
<line x1="156.10" y1="562.64" x2="161.30" y2="562.64" stroke="#f39419" stroke-width="1.1"/>
<line x1="156.10" y1="566.64" x2="161.30" y2="566.64" stroke="#f39419" stroke-width="1.1"/>
<line x1="170.63" y1="563.14" x2="170.63" y2="566.14" stroke="#f39419" stroke-width="1.1"/>
<line x1="168.03" y1="563.14" x2="173.23" y2="563.14" stroke="#f39419" stroke-width="1.1"/>
<line x1="168.03" y1="566.14" x2="173.23" y2="566.14" stroke="#f39419" stroke-width="1.1"/>
<rect x="37.20" y="544.95" width="4.40" height="4.40" fill="#f39419"/>
<rect x="49.13" y="546.88" width="4.40" height="4.40" fill="#f39419"/>
<rect x="61.06" y="546.88" width="4.40" height="4.40" fill="#f39419"/>
<rect x="72.99" y="560.83" width="4.40" height="4.40" fill="#f39419"/>
<rect x="84.92" y="560.83" width="4.40" height="4.40" fill="#f39419"/>
<rect x="96.85" y="560.83" width="4.40" height="4.40" fill="#f39419"/>
<rect x="108.78" y="530.68" width="4.40" height="4.40" fill="#f39419"/>
<rect x="120.71" y="530.68" width="4.40" height="4.40" fill="#f39419"/>
<rect x="132.64" y="534.23" width="4.40" height="4.40" fill="#f39419"/>
<rect x="144.57" y="562.12" width="4.40" height="4.40" fill="#f39419"/>
<rect x="156.50" y="562.44" width="4.40" height="4.40" fill="#f39419"/>
<rect x="168.43" y="562.44" width="4.40" height="4.40" fill="#f39419"/>
<polyline points="39.40,525.15 51.33,526.11 63.26,526.60 75.19,559.64 87.12,559.64 99.05,559.64 110.98,511.93 122.91,512.65 134.84,513.14 146.77,561.50 158.70,561.50 170.63,561.50" fill="none" stroke="#e8262a" stroke-width="0.75"/>
<line x1="39.40" y1="522.65" x2="39.40" y2="527.65" stroke="#e8262a" stroke-width="1.1"/>
<line x1="36.80" y1="522.65" x2="42.00" y2="522.65" stroke="#e8262a" stroke-width="1.1"/>
<line x1="36.80" y1="527.65" x2="42.00" y2="527.65" stroke="#e8262a" stroke-width="1.1"/>
<line x1="51.33" y1="523.61" x2="51.33" y2="528.61" stroke="#e8262a" stroke-width="1.1"/>
<line x1="48.73" y1="523.61" x2="53.93" y2="523.61" stroke="#e8262a" stroke-width="1.1"/>
<line x1="48.73" y1="528.61" x2="53.93" y2="528.61" stroke="#e8262a" stroke-width="1.1"/>
<line x1="63.26" y1="524.10" x2="63.26" y2="529.10" stroke="#e8262a" stroke-width="1.1"/>
<line x1="60.66" y1="524.10" x2="65.86" y2="524.10" stroke="#e8262a" stroke-width="1.1"/>
<line x1="60.66" y1="529.10" x2="65.86" y2="529.10" stroke="#e8262a" stroke-width="1.1"/>
<line x1="75.19" y1="558.64" x2="75.19" y2="560.64" stroke="#e8262a" stroke-width="1.1"/>
<line x1="72.59" y1="558.64" x2="77.79" y2="558.64" stroke="#e8262a" stroke-width="1.1"/>
<line x1="72.59" y1="560.64" x2="77.79" y2="560.64" stroke="#e8262a" stroke-width="1.1"/>
<line x1="87.12" y1="558.64" x2="87.12" y2="560.64" stroke="#e8262a" stroke-width="1.1"/>
<line x1="84.52" y1="558.64" x2="89.72" y2="558.64" stroke="#e8262a" stroke-width="1.1"/>
<line x1="84.52" y1="560.64" x2="89.72" y2="560.64" stroke="#e8262a" stroke-width="1.1"/>
<line x1="99.05" y1="558.64" x2="99.05" y2="560.64" stroke="#e8262a" stroke-width="1.1"/>
<line x1="96.45" y1="558.64" x2="101.65" y2="558.64" stroke="#e8262a" stroke-width="1.1"/>
<line x1="96.45" y1="560.64" x2="101.65" y2="560.64" stroke="#e8262a" stroke-width="1.1"/>
<line x1="110.98" y1="509.43" x2="110.98" y2="514.43" stroke="#e8262a" stroke-width="1.1"/>
<line x1="108.38" y1="509.43" x2="113.58" y2="509.43" stroke="#e8262a" stroke-width="1.1"/>
<line x1="108.38" y1="514.43" x2="113.58" y2="514.43" stroke="#e8262a" stroke-width="1.1"/>
<line x1="122.91" y1="510.15" x2="122.91" y2="515.15" stroke="#e8262a" stroke-width="1.1"/>
<line x1="120.31" y1="510.15" x2="125.51" y2="510.15" stroke="#e8262a" stroke-width="1.1"/>
<line x1="120.31" y1="515.15" x2="125.51" y2="515.15" stroke="#e8262a" stroke-width="1.1"/>
<line x1="134.84" y1="510.14" x2="134.84" y2="516.14" stroke="#e8262a" stroke-width="1.1"/>
<line x1="132.24" y1="510.14" x2="137.44" y2="510.14" stroke="#e8262a" stroke-width="1.1"/>
<line x1="132.24" y1="516.14" x2="137.44" y2="516.14" stroke="#e8262a" stroke-width="1.1"/>
<line x1="146.77" y1="560.50" x2="146.77" y2="562.50" stroke="#e8262a" stroke-width="1.1"/>
<line x1="144.17" y1="560.50" x2="149.37" y2="560.50" stroke="#e8262a" stroke-width="1.1"/>
<line x1="144.17" y1="562.50" x2="149.37" y2="562.50" stroke="#e8262a" stroke-width="1.1"/>
<line x1="158.70" y1="560.50" x2="158.70" y2="562.50" stroke="#e8262a" stroke-width="1.1"/>
<line x1="156.10" y1="560.50" x2="161.30" y2="560.50" stroke="#e8262a" stroke-width="1.1"/>
<line x1="156.10" y1="562.50" x2="161.30" y2="562.50" stroke="#e8262a" stroke-width="1.1"/>
<line x1="170.63" y1="560.50" x2="170.63" y2="562.50" stroke="#e8262a" stroke-width="1.1"/>
<line x1="168.03" y1="560.50" x2="173.23" y2="560.50" stroke="#e8262a" stroke-width="1.1"/>
<line x1="168.03" y1="562.50" x2="173.23" y2="562.50" stroke="#e8262a" stroke-width="1.1"/>
<polygon points="37.00,523.15 41.80,523.15 39.40,527.55" fill="#e8262a"/>
<polygon points="48.93,524.11 53.73,524.11 51.33,528.51" fill="#e8262a"/>
<polygon points="60.86,524.60 65.66,524.60 63.26,529.00" fill="#e8262a"/>
<polygon points="72.79,557.64 77.59,557.64 75.19,562.04" fill="#e8262a"/>
<polygon points="84.72,557.64 89.52,557.64 87.12,562.04" fill="#e8262a"/>
<polygon points="96.65,557.64 101.45,557.64 99.05,562.04" fill="#e8262a"/>
<polygon points="108.58,509.93 113.38,509.93 110.98,514.33" fill="#e8262a"/>
<polygon points="120.51,510.65 125.31,510.65 122.91,515.05" fill="#e8262a"/>
<polygon points="132.44,511.14 137.24,511.14 134.84,515.54" fill="#e8262a"/>
<polygon points="144.37,559.50 149.17,559.50 146.77,563.90" fill="#e8262a"/>
<polygon points="156.30,559.50 161.10,559.50 158.70,563.90" fill="#e8262a"/>
<polygon points="168.23,559.50 173.03,559.50 170.63,563.90" fill="#e8262a"/>
<polyline points="39.40,513.94 51.33,515.96 63.26,514.59 75.19,556.26 87.12,556.26 99.05,556.26 110.98,499.19 122.91,501.05 134.84,503.38 146.77,558.51 158.70,557.87 170.63,557.87" fill="none" stroke="#000" stroke-width="0.75"/>
<line x1="39.40" y1="511.94" x2="39.40" y2="515.94" stroke="#000" stroke-width="1.1"/>
<line x1="36.80" y1="511.94" x2="42.00" y2="511.94" stroke="#000" stroke-width="1.1"/>
<line x1="36.80" y1="515.94" x2="42.00" y2="515.94" stroke="#000" stroke-width="1.1"/>
<line x1="51.33" y1="512.96" x2="51.33" y2="518.96" stroke="#000" stroke-width="1.1"/>
<line x1="48.73" y1="512.96" x2="53.93" y2="512.96" stroke="#000" stroke-width="1.1"/>
<line x1="48.73" y1="518.96" x2="53.93" y2="518.96" stroke="#000" stroke-width="1.1"/>
<line x1="63.26" y1="511.59" x2="63.26" y2="517.59" stroke="#000" stroke-width="1.1"/>
<line x1="60.66" y1="511.59" x2="65.86" y2="511.59" stroke="#000" stroke-width="1.1"/>
<line x1="60.66" y1="517.59" x2="65.86" y2="517.59" stroke="#000" stroke-width="1.1"/>
<line x1="75.19" y1="555.26" x2="75.19" y2="557.26" stroke="#000" stroke-width="1.1"/>
<line x1="72.59" y1="555.26" x2="77.79" y2="555.26" stroke="#000" stroke-width="1.1"/>
<line x1="72.59" y1="557.26" x2="77.79" y2="557.26" stroke="#000" stroke-width="1.1"/>
<line x1="87.12" y1="555.26" x2="87.12" y2="557.26" stroke="#000" stroke-width="1.1"/>
<line x1="84.52" y1="555.26" x2="89.72" y2="555.26" stroke="#000" stroke-width="1.1"/>
<line x1="84.52" y1="557.26" x2="89.72" y2="557.26" stroke="#000" stroke-width="1.1"/>
<line x1="99.05" y1="555.26" x2="99.05" y2="557.26" stroke="#000" stroke-width="1.1"/>
<line x1="96.45" y1="555.26" x2="101.65" y2="555.26" stroke="#000" stroke-width="1.1"/>
<line x1="96.45" y1="557.26" x2="101.65" y2="557.26" stroke="#000" stroke-width="1.1"/>
<line x1="110.98" y1="496.69" x2="110.98" y2="501.69" stroke="#000" stroke-width="1.1"/>
<line x1="108.38" y1="496.69" x2="113.58" y2="496.69" stroke="#000" stroke-width="1.1"/>
<line x1="108.38" y1="501.69" x2="113.58" y2="501.69" stroke="#000" stroke-width="1.1"/>
<line x1="122.91" y1="498.05" x2="122.91" y2="504.05" stroke="#000" stroke-width="1.1"/>
<line x1="120.31" y1="498.05" x2="125.51" y2="498.05" stroke="#000" stroke-width="1.1"/>
<line x1="120.31" y1="504.05" x2="125.51" y2="504.05" stroke="#000" stroke-width="1.1"/>
<line x1="134.84" y1="500.38" x2="134.84" y2="506.38" stroke="#000" stroke-width="1.1"/>
<line x1="132.24" y1="500.38" x2="137.44" y2="500.38" stroke="#000" stroke-width="1.1"/>
<line x1="132.24" y1="506.38" x2="137.44" y2="506.38" stroke="#000" stroke-width="1.1"/>
<line x1="146.77" y1="557.51" x2="146.77" y2="559.51" stroke="#000" stroke-width="1.1"/>
<line x1="144.17" y1="557.51" x2="149.37" y2="557.51" stroke="#000" stroke-width="1.1"/>
<line x1="144.17" y1="559.51" x2="149.37" y2="559.51" stroke="#000" stroke-width="1.1"/>
<line x1="158.70" y1="555.37" x2="158.70" y2="560.37" stroke="#000" stroke-width="1.1"/>
<line x1="156.10" y1="555.37" x2="161.30" y2="555.37" stroke="#000" stroke-width="1.1"/>
<line x1="156.10" y1="560.37" x2="161.30" y2="560.37" stroke="#000" stroke-width="1.1"/>
<line x1="170.63" y1="555.37" x2="170.63" y2="560.37" stroke="#000" stroke-width="1.1"/>
<line x1="168.03" y1="555.37" x2="173.23" y2="555.37" stroke="#000" stroke-width="1.1"/>
<line x1="168.03" y1="560.37" x2="173.23" y2="560.37" stroke="#000" stroke-width="1.1"/>
<circle cx="39.40" cy="513.94" r="2.10" fill="#000"/>
<circle cx="51.33" cy="515.96" r="2.10" fill="#000"/>
<circle cx="63.26" cy="514.59" r="2.10" fill="#000"/>
<circle cx="75.19" cy="556.26" r="2.10" fill="#000"/>
<circle cx="87.12" cy="556.26" r="2.10" fill="#000"/>
<circle cx="99.05" cy="556.26" r="2.10" fill="#000"/>
<circle cx="110.98" cy="499.19" r="2.10" fill="#000"/>
<circle cx="122.91" cy="501.05" r="2.10" fill="#000"/>
<circle cx="134.84" cy="503.38" r="2.10" fill="#000"/>
<circle cx="146.77" cy="558.51" r="2.10" fill="#000"/>
<circle cx="158.70" cy="557.87" r="2.10" fill="#000"/>
<circle cx="170.63" cy="557.87" r="2.10" fill="#000"/>
<line x1="170.60" y1="477.30" x2="180.80" y2="477.30" stroke="#000" stroke-width="0.9"/>
<circle cx="175.70" cy="477.30" r="2.00" fill="#000"/>
<text x="184.00" y="480.25" font-size="8.25" text-anchor="start" stroke="#111" stroke-width="0.18" fill="#111">MTAP-WT+shCON</text>
<line x1="170.60" y1="490.80" x2="180.80" y2="490.80" stroke="#f39419" stroke-width="0.9"/>
<rect x="173.70" y="488.80" width="4.00" height="4.00" fill="#f39419"/>
<text x="184.00" y="493.75" font-size="8.25" text-anchor="start" stroke="#111" stroke-width="0.18" fill="#111">MTAP-KO+shCON</text>
<line x1="170.60" y1="503.80" x2="180.80" y2="503.80" stroke="#e8262a" stroke-width="0.9"/>
<polygon points="173.42,501.90 177.98,501.90 175.70,506.08" fill="#e8262a"/>
<text x="184.00" y="506.75" font-size="8.25" text-anchor="start" stroke="#111" stroke-width="0.18" fill="#111">MTAP-KO+shRIOK1</text>
<line x1="319.40" y1="477.00" x2="319.40" y2="574.80" stroke="#1a1a1a" stroke-width="1.3"/>
<line x1="318.80" y1="574.20" x2="464.40" y2="574.20" stroke="#1a1a1a" stroke-width="1.3"/>
<line x1="316.10" y1="574.20" x2="319.40" y2="574.20" stroke="#1a1a1a" stroke-width="1.2"/>
<text x="315.50" y="576.96" font-size="7.7" text-anchor="end" stroke="#111" stroke-width="0.18" fill="#111">0</text>
<line x1="316.10" y1="554.86" x2="319.40" y2="554.86" stroke="#1a1a1a" stroke-width="1.2"/>
<text x="315.50" y="557.62" font-size="7.7" text-anchor="end" stroke="#111" stroke-width="0.18" fill="#111">200</text>
<line x1="316.10" y1="535.52" x2="319.40" y2="535.52" stroke="#1a1a1a" stroke-width="1.2"/>
<text x="315.50" y="538.28" font-size="7.7" text-anchor="end" stroke="#111" stroke-width="0.18" fill="#111">400</text>
<line x1="316.10" y1="516.18" x2="319.40" y2="516.18" stroke="#1a1a1a" stroke-width="1.2"/>
<text x="315.50" y="518.94" font-size="7.7" text-anchor="end" stroke="#111" stroke-width="0.18" fill="#111">600</text>
<line x1="316.10" y1="496.84" x2="319.40" y2="496.84" stroke="#1a1a1a" stroke-width="1.2"/>
<text x="315.50" y="499.60" font-size="7.7" text-anchor="end" stroke="#111" stroke-width="0.18" fill="#111">800</text>
<line x1="316.10" y1="477.50" x2="319.40" y2="477.50" stroke="#1a1a1a" stroke-width="1.2"/>
<text x="315.50" y="480.26" font-size="7.7" text-anchor="end" stroke="#111" stroke-width="0.18" textLength="17.0" lengthAdjust="spacingAndGlyphs" fill="#111">1,000</text>
<line x1="319.40" y1="574.20" x2="319.40" y2="577.00" stroke="#1a1a1a" stroke-width="1.2"/>
<text x="319.40" y="585.26" font-size="7.7" text-anchor="middle" stroke="#111" stroke-width="0.18" fill="#111">0</text>
<line x1="355.60" y1="574.20" x2="355.60" y2="577.00" stroke="#1a1a1a" stroke-width="1.2"/>
<text x="355.60" y="585.26" font-size="7.7" text-anchor="middle" stroke="#111" stroke-width="0.18" fill="#111">20</text>
<line x1="391.80" y1="574.20" x2="391.80" y2="577.00" stroke="#1a1a1a" stroke-width="1.2"/>
<text x="391.80" y="585.26" font-size="7.7" text-anchor="middle" stroke="#111" stroke-width="0.18" fill="#111">40</text>
<line x1="428.00" y1="574.20" x2="428.00" y2="577.00" stroke="#1a1a1a" stroke-width="1.2"/>
<text x="428.00" y="585.26" font-size="7.7" text-anchor="middle" stroke="#111" stroke-width="0.18" fill="#111">60</text>
<line x1="464.20" y1="574.20" x2="464.20" y2="577.00" stroke="#1a1a1a" stroke-width="1.2"/>
<text x="464.20" y="585.26" font-size="7.7" text-anchor="middle" stroke="#111" stroke-width="0.18" fill="#111">80</text>
<text transform="translate(294.40,528.70) rotate(-90)" font-size="8.2" text-anchor="middle" stroke="#111" stroke-width="0.18" fill="#111">OCR (pMoles/min)</text>
<text x="394.00" y="597.19" font-size="7.8" text-anchor="middle" stroke="#111" stroke-width="0.18" fill="#111">Time (minutes)</text>
<text x="318.50" y="461.33" font-size="7.9" text-anchor="start" font-weight="bold" fill="#000">MIA PaCa-2</text>
<line x1="318.50" y1="464.60" x2="364.40" y2="464.60" stroke="#111" stroke-width="1.3"/>
<text x="328.00" y="492.40" font-size="6.7" text-anchor="start" font-weight="bold" letter-spacing="0.2" fill="#000">Oligomycin</text>
<line x1="345.40" y1="494.80" x2="345.40" y2="502.50" stroke="#111" stroke-width="1.1"/>
<polygon points="343.60,502.00 347.20,502.00 345.40,506.50" fill="#111"/>
<text x="368.00" y="516.90" font-size="6.7" text-anchor="start" font-weight="bold" letter-spacing="0.2" fill="#000">FCCP</text>
<line x1="379.30" y1="521.20" x2="379.30" y2="546.20" stroke="#111" stroke-width="1.1"/>
<polygon points="377.50,545.70 381.10,545.70 379.30,550.20" fill="#111"/>
<text x="397.50" y="454.40" font-size="6.7" text-anchor="start" font-weight="bold" letter-spacing="0.2" fill="#000">Antimycin A</text>
<text x="398.80" y="463.70" font-size="6.7" text-anchor="start" font-weight="bold" letter-spacing="0.2" fill="#000">&amp; Rotenone</text>
<line x1="417.00" y1="466.20" x2="417.00" y2="477.50" stroke="#111" stroke-width="1.1"/>
<polygon points="415.20,477.00 418.80,477.00 417.00,481.50" fill="#111"/>
<polyline points="321.30,512.02 333.23,513.47 345.16,513.86 357.09,562.11 369.02,562.11 380.95,562.69 392.88,484.95 404.81,489.97 416.74,493.65 428.67,566.27 440.60,566.27 452.53,566.27" fill="none" stroke="#2fb53a" stroke-width="0.75"/>
<line x1="321.30" y1="510.52" x2="321.30" y2="513.52" stroke="#2fb53a" stroke-width="1.1"/>
<line x1="318.70" y1="510.52" x2="323.90" y2="510.52" stroke="#2fb53a" stroke-width="1.1"/>
<line x1="318.70" y1="513.52" x2="323.90" y2="513.52" stroke="#2fb53a" stroke-width="1.1"/>
<line x1="333.23" y1="507.67" x2="333.23" y2="519.27" stroke="#2fb53a" stroke-width="1.1"/>
<line x1="330.63" y1="507.67" x2="335.83" y2="507.67" stroke="#2fb53a" stroke-width="1.1"/>
<line x1="330.63" y1="519.27" x2="335.83" y2="519.27" stroke="#2fb53a" stroke-width="1.1"/>
<line x1="345.16" y1="510.36" x2="345.16" y2="517.36" stroke="#2fb53a" stroke-width="1.1"/>
<line x1="342.56" y1="510.36" x2="347.76" y2="510.36" stroke="#2fb53a" stroke-width="1.1"/>
<line x1="342.56" y1="517.36" x2="347.76" y2="517.36" stroke="#2fb53a" stroke-width="1.1"/>
<line x1="357.09" y1="561.11" x2="357.09" y2="563.11" stroke="#2fb53a" stroke-width="1.1"/>
<line x1="354.49" y1="561.11" x2="359.69" y2="561.11" stroke="#2fb53a" stroke-width="1.1"/>
<line x1="354.49" y1="563.11" x2="359.69" y2="563.11" stroke="#2fb53a" stroke-width="1.1"/>
<line x1="369.02" y1="561.11" x2="369.02" y2="563.11" stroke="#2fb53a" stroke-width="1.1"/>
<line x1="366.42" y1="561.11" x2="371.62" y2="561.11" stroke="#2fb53a" stroke-width="1.1"/>
<line x1="366.42" y1="563.11" x2="371.62" y2="563.11" stroke="#2fb53a" stroke-width="1.1"/>
<line x1="380.95" y1="561.69" x2="380.95" y2="563.69" stroke="#2fb53a" stroke-width="1.1"/>
<line x1="378.35" y1="561.69" x2="383.55" y2="561.69" stroke="#2fb53a" stroke-width="1.1"/>
<line x1="378.35" y1="563.69" x2="383.55" y2="563.69" stroke="#2fb53a" stroke-width="1.1"/>
<line x1="392.88" y1="478.95" x2="392.88" y2="490.95" stroke="#2fb53a" stroke-width="1.1"/>
<line x1="390.28" y1="478.95" x2="395.48" y2="478.95" stroke="#2fb53a" stroke-width="1.1"/>
<line x1="390.28" y1="490.95" x2="395.48" y2="490.95" stroke="#2fb53a" stroke-width="1.1"/>
<line x1="404.81" y1="487.47" x2="404.81" y2="492.47" stroke="#2fb53a" stroke-width="1.1"/>
<line x1="402.21" y1="487.47" x2="407.41" y2="487.47" stroke="#2fb53a" stroke-width="1.1"/>
<line x1="402.21" y1="492.47" x2="407.41" y2="492.47" stroke="#2fb53a" stroke-width="1.1"/>
<line x1="416.74" y1="484.65" x2="416.74" y2="502.65" stroke="#2fb53a" stroke-width="1.1"/>
<line x1="414.14" y1="484.65" x2="419.34" y2="484.65" stroke="#2fb53a" stroke-width="1.1"/>
<line x1="414.14" y1="502.65" x2="419.34" y2="502.65" stroke="#2fb53a" stroke-width="1.1"/>
<line x1="428.67" y1="565.27" x2="428.67" y2="567.27" stroke="#2fb53a" stroke-width="1.1"/>
<line x1="426.07" y1="565.27" x2="431.27" y2="565.27" stroke="#2fb53a" stroke-width="1.1"/>
<line x1="426.07" y1="567.27" x2="431.27" y2="567.27" stroke="#2fb53a" stroke-width="1.1"/>
<line x1="440.60" y1="565.27" x2="440.60" y2="567.27" stroke="#2fb53a" stroke-width="1.1"/>
<line x1="438.00" y1="565.27" x2="443.20" y2="565.27" stroke="#2fb53a" stroke-width="1.1"/>
<line x1="438.00" y1="567.27" x2="443.20" y2="567.27" stroke="#2fb53a" stroke-width="1.1"/>
<line x1="452.53" y1="565.27" x2="452.53" y2="567.27" stroke="#2fb53a" stroke-width="1.1"/>
<line x1="449.93" y1="565.27" x2="455.13" y2="565.27" stroke="#2fb53a" stroke-width="1.1"/>
<line x1="449.93" y1="567.27" x2="455.13" y2="567.27" stroke="#2fb53a" stroke-width="1.1"/>
<rect x="319.10" y="509.82" width="4.40" height="4.40" fill="#2fb53a"/>
<rect x="331.03" y="511.27" width="4.40" height="4.40" fill="#2fb53a"/>
<rect x="342.96" y="511.66" width="4.40" height="4.40" fill="#2fb53a"/>
<rect x="354.89" y="559.91" width="4.40" height="4.40" fill="#2fb53a"/>
<rect x="366.82" y="559.91" width="4.40" height="4.40" fill="#2fb53a"/>
<rect x="378.75" y="560.49" width="4.40" height="4.40" fill="#2fb53a"/>
<rect x="390.68" y="482.75" width="4.40" height="4.40" fill="#2fb53a"/>
<rect x="402.61" y="487.77" width="4.40" height="4.40" fill="#2fb53a"/>
<rect x="414.54" y="491.45" width="4.40" height="4.40" fill="#2fb53a"/>
<rect x="426.47" y="564.07" width="4.40" height="4.40" fill="#2fb53a"/>
<rect x="438.40" y="564.07" width="4.40" height="4.40" fill="#2fb53a"/>
<rect x="450.33" y="564.07" width="4.40" height="4.40" fill="#2fb53a"/>
<polyline points="321.30,535.52 333.23,536.87 345.16,536.29 357.09,566.46 369.02,566.46 380.95,566.46 392.88,525.37 404.81,529.33 416.74,531.56 428.67,566.95 440.60,567.43 452.53,567.43" fill="none" stroke="#b7916a" stroke-width="0.75"/>
<line x1="321.30" y1="530.52" x2="321.30" y2="540.52" stroke="#b7916a" stroke-width="1.1"/>
<line x1="318.70" y1="530.52" x2="323.90" y2="530.52" stroke="#b7916a" stroke-width="1.1"/>
<line x1="318.70" y1="540.52" x2="323.90" y2="540.52" stroke="#b7916a" stroke-width="1.1"/>
<line x1="333.23" y1="533.87" x2="333.23" y2="539.87" stroke="#b7916a" stroke-width="1.1"/>
<line x1="330.63" y1="533.87" x2="335.83" y2="533.87" stroke="#b7916a" stroke-width="1.1"/>
<line x1="330.63" y1="539.87" x2="335.83" y2="539.87" stroke="#b7916a" stroke-width="1.1"/>
<line x1="345.16" y1="532.29" x2="345.16" y2="540.29" stroke="#b7916a" stroke-width="1.1"/>
<line x1="342.56" y1="532.29" x2="347.76" y2="532.29" stroke="#b7916a" stroke-width="1.1"/>
<line x1="342.56" y1="540.29" x2="347.76" y2="540.29" stroke="#b7916a" stroke-width="1.1"/>
<line x1="357.09" y1="565.46" x2="357.09" y2="567.46" stroke="#b7916a" stroke-width="1.1"/>
<line x1="354.49" y1="565.46" x2="359.69" y2="565.46" stroke="#b7916a" stroke-width="1.1"/>
<line x1="354.49" y1="567.46" x2="359.69" y2="567.46" stroke="#b7916a" stroke-width="1.1"/>
<line x1="369.02" y1="565.46" x2="369.02" y2="567.46" stroke="#b7916a" stroke-width="1.1"/>
<line x1="366.42" y1="565.46" x2="371.62" y2="565.46" stroke="#b7916a" stroke-width="1.1"/>
<line x1="366.42" y1="567.46" x2="371.62" y2="567.46" stroke="#b7916a" stroke-width="1.1"/>
<line x1="380.95" y1="565.46" x2="380.95" y2="567.46" stroke="#b7916a" stroke-width="1.1"/>
<line x1="378.35" y1="565.46" x2="383.55" y2="565.46" stroke="#b7916a" stroke-width="1.1"/>
<line x1="378.35" y1="567.46" x2="383.55" y2="567.46" stroke="#b7916a" stroke-width="1.1"/>
<line x1="392.88" y1="521.87" x2="392.88" y2="528.87" stroke="#b7916a" stroke-width="1.1"/>
<line x1="390.28" y1="521.87" x2="395.48" y2="521.87" stroke="#b7916a" stroke-width="1.1"/>
<line x1="390.28" y1="528.87" x2="395.48" y2="528.87" stroke="#b7916a" stroke-width="1.1"/>
<line x1="404.81" y1="526.33" x2="404.81" y2="532.33" stroke="#b7916a" stroke-width="1.1"/>
<line x1="402.21" y1="526.33" x2="407.41" y2="526.33" stroke="#b7916a" stroke-width="1.1"/>
<line x1="402.21" y1="532.33" x2="407.41" y2="532.33" stroke="#b7916a" stroke-width="1.1"/>
<line x1="416.74" y1="527.56" x2="416.74" y2="535.56" stroke="#b7916a" stroke-width="1.1"/>
<line x1="414.14" y1="527.56" x2="419.34" y2="527.56" stroke="#b7916a" stroke-width="1.1"/>
<line x1="414.14" y1="535.56" x2="419.34" y2="535.56" stroke="#b7916a" stroke-width="1.1"/>
<line x1="428.67" y1="565.95" x2="428.67" y2="567.95" stroke="#b7916a" stroke-width="1.1"/>
<line x1="426.07" y1="565.95" x2="431.27" y2="565.95" stroke="#b7916a" stroke-width="1.1"/>
<line x1="426.07" y1="567.95" x2="431.27" y2="567.95" stroke="#b7916a" stroke-width="1.1"/>
<line x1="440.60" y1="566.43" x2="440.60" y2="568.43" stroke="#b7916a" stroke-width="1.1"/>
<line x1="438.00" y1="566.43" x2="443.20" y2="566.43" stroke="#b7916a" stroke-width="1.1"/>
<line x1="438.00" y1="568.43" x2="443.20" y2="568.43" stroke="#b7916a" stroke-width="1.1"/>
<line x1="452.53" y1="566.43" x2="452.53" y2="568.43" stroke="#b7916a" stroke-width="1.1"/>
<line x1="449.93" y1="566.43" x2="455.13" y2="566.43" stroke="#b7916a" stroke-width="1.1"/>
<line x1="449.93" y1="568.43" x2="455.13" y2="568.43" stroke="#b7916a" stroke-width="1.1"/>
<polygon points="318.90,537.52 323.70,537.52 321.30,533.12" fill="#b7916a"/>
<polygon points="330.83,538.87 335.63,538.87 333.23,534.47" fill="#b7916a"/>
<polygon points="342.76,538.29 347.56,538.29 345.16,533.89" fill="#b7916a"/>
<polygon points="354.69,568.46 359.49,568.46 357.09,564.06" fill="#b7916a"/>
<polygon points="366.62,568.46 371.42,568.46 369.02,564.06" fill="#b7916a"/>
<polygon points="378.55,568.46 383.35,568.46 380.95,564.06" fill="#b7916a"/>
<polygon points="390.48,527.37 395.28,527.37 392.88,522.97" fill="#b7916a"/>
<polygon points="402.41,531.33 407.21,531.33 404.81,526.93" fill="#b7916a"/>
<polygon points="414.34,533.56 419.14,533.56 416.74,529.16" fill="#b7916a"/>
<polygon points="426.27,568.95 431.07,568.95 428.67,564.55" fill="#b7916a"/>
<polygon points="438.20,569.43 443.00,569.43 440.60,565.03" fill="#b7916a"/>
<polygon points="450.13,569.43 454.93,569.43 452.53,565.03" fill="#b7916a"/>
<polyline points="321.30,541.61 333.23,544.13 345.16,543.64 357.09,567.53 369.02,567.53 380.95,567.72 392.88,535.33 404.81,537.84 416.74,539.29 428.67,566.95 440.60,567.72 452.53,568.20" fill="none" stroke="#000" stroke-width="0.75"/>
<line x1="321.30" y1="538.61" x2="321.30" y2="544.61" stroke="#000" stroke-width="1.1"/>
<line x1="318.70" y1="538.61" x2="323.90" y2="538.61" stroke="#000" stroke-width="1.1"/>
<line x1="318.70" y1="544.61" x2="323.90" y2="544.61" stroke="#000" stroke-width="1.1"/>
<line x1="333.23" y1="541.13" x2="333.23" y2="547.13" stroke="#000" stroke-width="1.1"/>
<line x1="330.63" y1="541.13" x2="335.83" y2="541.13" stroke="#000" stroke-width="1.1"/>
<line x1="330.63" y1="547.13" x2="335.83" y2="547.13" stroke="#000" stroke-width="1.1"/>
<line x1="345.16" y1="540.64" x2="345.16" y2="546.64" stroke="#000" stroke-width="1.1"/>
<line x1="342.56" y1="540.64" x2="347.76" y2="540.64" stroke="#000" stroke-width="1.1"/>
<line x1="342.56" y1="546.64" x2="347.76" y2="546.64" stroke="#000" stroke-width="1.1"/>
<line x1="357.09" y1="566.53" x2="357.09" y2="568.53" stroke="#000" stroke-width="1.1"/>
<line x1="354.49" y1="566.53" x2="359.69" y2="566.53" stroke="#000" stroke-width="1.1"/>
<line x1="354.49" y1="568.53" x2="359.69" y2="568.53" stroke="#000" stroke-width="1.1"/>
<line x1="369.02" y1="566.53" x2="369.02" y2="568.53" stroke="#000" stroke-width="1.1"/>
<line x1="366.42" y1="566.53" x2="371.62" y2="566.53" stroke="#000" stroke-width="1.1"/>
<line x1="366.42" y1="568.53" x2="371.62" y2="568.53" stroke="#000" stroke-width="1.1"/>
<line x1="380.95" y1="566.72" x2="380.95" y2="568.72" stroke="#000" stroke-width="1.1"/>
<line x1="378.35" y1="566.72" x2="383.55" y2="566.72" stroke="#000" stroke-width="1.1"/>
<line x1="378.35" y1="568.72" x2="383.55" y2="568.72" stroke="#000" stroke-width="1.1"/>
<line x1="392.88" y1="532.33" x2="392.88" y2="538.33" stroke="#000" stroke-width="1.1"/>
<line x1="390.28" y1="532.33" x2="395.48" y2="532.33" stroke="#000" stroke-width="1.1"/>
<line x1="390.28" y1="538.33" x2="395.48" y2="538.33" stroke="#000" stroke-width="1.1"/>
<line x1="404.81" y1="534.34" x2="404.81" y2="541.34" stroke="#000" stroke-width="1.1"/>
<line x1="402.21" y1="534.34" x2="407.41" y2="534.34" stroke="#000" stroke-width="1.1"/>
<line x1="402.21" y1="541.34" x2="407.41" y2="541.34" stroke="#000" stroke-width="1.1"/>
<line x1="416.74" y1="535.79" x2="416.74" y2="542.79" stroke="#000" stroke-width="1.1"/>
<line x1="414.14" y1="535.79" x2="419.34" y2="535.79" stroke="#000" stroke-width="1.1"/>
<line x1="414.14" y1="542.79" x2="419.34" y2="542.79" stroke="#000" stroke-width="1.1"/>
<line x1="428.67" y1="565.95" x2="428.67" y2="567.95" stroke="#000" stroke-width="1.1"/>
<line x1="426.07" y1="565.95" x2="431.27" y2="565.95" stroke="#000" stroke-width="1.1"/>
<line x1="426.07" y1="567.95" x2="431.27" y2="567.95" stroke="#000" stroke-width="1.1"/>
<line x1="440.60" y1="566.72" x2="440.60" y2="568.72" stroke="#000" stroke-width="1.1"/>
<line x1="438.00" y1="566.72" x2="443.20" y2="566.72" stroke="#000" stroke-width="1.1"/>
<line x1="438.00" y1="568.72" x2="443.20" y2="568.72" stroke="#000" stroke-width="1.1"/>
<line x1="452.53" y1="567.20" x2="452.53" y2="569.20" stroke="#000" stroke-width="1.1"/>
<line x1="449.93" y1="567.20" x2="455.13" y2="567.20" stroke="#000" stroke-width="1.1"/>
<line x1="449.93" y1="569.20" x2="455.13" y2="569.20" stroke="#000" stroke-width="1.1"/>
<circle cx="321.30" cy="541.61" r="2.10" fill="#000"/>
<circle cx="333.23" cy="544.13" r="2.10" fill="#000"/>
<circle cx="345.16" cy="543.64" r="2.10" fill="#000"/>
<circle cx="357.09" cy="567.53" r="2.10" fill="#000"/>
<circle cx="369.02" cy="567.53" r="2.10" fill="#000"/>
<circle cx="380.95" cy="567.72" r="2.10" fill="#000"/>
<circle cx="392.88" cy="535.33" r="2.10" fill="#000"/>
<circle cx="404.81" cy="537.84" r="2.10" fill="#000"/>
<circle cx="416.74" cy="539.29" r="2.10" fill="#000"/>
<circle cx="428.67" cy="566.95" r="2.10" fill="#000"/>
<circle cx="440.60" cy="567.72" r="2.10" fill="#000"/>
<circle cx="452.53" cy="568.20" r="2.10" fill="#000"/>
<line x1="455.40" y1="478.20" x2="466.20" y2="478.20" stroke="#000" stroke-width="0.9"/>
<circle cx="460.80" cy="478.20" r="2.00" fill="#000"/>
<text x="472.00" y="481.06" font-size="8.0" text-anchor="start" stroke="#111" stroke-width="0.18" fill="#111">EV</text>
<line x1="455.40" y1="489.00" x2="466.20" y2="489.00" stroke="#2fb53a" stroke-width="0.9"/>
<rect x="458.80" y="487.00" width="4.00" height="4.00" fill="#2fb53a"/>
<text x="472.00" y="491.86" font-size="8.0" text-anchor="start" stroke="#111" stroke-width="0.18" fill="#111">MTAP</text>
<line x1="455.40" y1="500.30" x2="466.20" y2="500.30" stroke="#b7916a" stroke-width="0.9"/>
<polygon points="458.52,502.20 463.08,502.20 460.80,498.02" fill="#b7916a"/>
<text x="472.00" y="503.16" font-size="8.0" text-anchor="start" stroke="#111" stroke-width="0.18" fill="#111">MTAP+RIOK1</text>
</svg></body></html>
